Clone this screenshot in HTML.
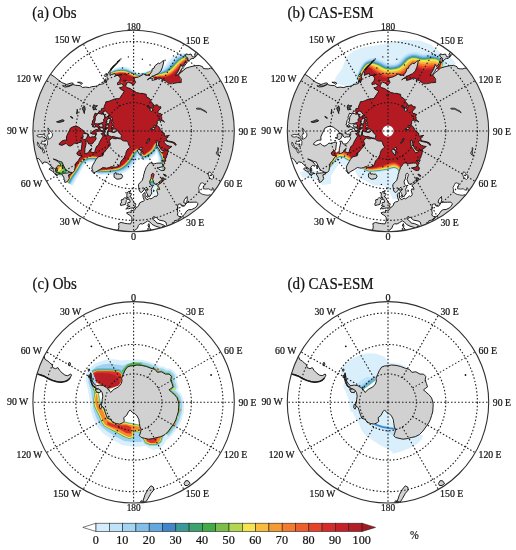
<!DOCTYPE html>
<html><head><meta charset="utf-8"><title>Sea ice concentration</title>
<style>html,body{margin:0;padding:0;background:#fff}svg{display:block}text{font-family:"Liberation Serif","DejaVu Serif",serif;fill:#111;stroke:#111;stroke-width:0.22px}.t{font-size:16px}.l{font-size:10.3px}.n{font-size:12.2px}.g{fill:none;stroke:#1a1a1a;stroke-width:1.1;stroke-dasharray:1.5 2}.land{fill:#d1d1d1;stroke:#151515;stroke-width:0.95;stroke-linejoin:round}.lake{fill:#fff;stroke:#111;stroke-width:0.8;stroke-linejoin:round}.lakeg{fill:#555;stroke:#111;stroke-width:0.9;stroke-linejoin:round}.ln{fill:none;stroke:#111;stroke-width:0.8;stroke-linecap:round}</style></head><body>
<svg width="516" height="550" viewBox="0 0 516 550">
<rect width="516" height="550" fill="#fff"/>
<defs>
<clipPath id="ca"><circle cx="133.6" cy="131" r="100.7"/></clipPath>
<clipPath id="cb"><circle cx="388" cy="131" r="100.7"/></clipPath>
<clipPath id="cc"><circle cx="133.6" cy="402.3" r="100.7"/></clipPath>
<clipPath id="cd"><circle cx="388" cy="402.3" r="100.7"/></clipPath>
</defs>
<g id="panel-a">
<g clip-path="url(#ca)">
<circle cx="133.6" cy="131" r="100.7" fill="#fff"/>
<path fill="#dcf0fb" d="M152.3 69.1L150.2 70.2L148 70.7L146.1 71.4L144.5 72L143 72.5L141.6 72.8L140.2 73L138.9 73L137.5 72.7L136.1 72.1L134.7 71.2L133 70.1L131.2 69L129.3 68L127.2 67.3L125.2 66.9L123.3 66.6L121.4 66.7L119.5 67L117.7 67.4L116 68L114.3 68.8L112.5 69.7L110.8 70.8L109.1 72.2L107.3 73.7L111.9 77.4L114.9 84.8L122.7 87.4L128.1 86.4L135.3 81.2L141.1 77.7L147.6 74.9Z"/>
<path fill="#c3e5f8" d="M152.5 69.4L150.3 70.5L148.2 71.1L146.3 71.9L144.7 72.5L143.2 73L141.7 73.4L140.3 73.6L138.9 73.7L137.5 73.4L135.9 72.8L134.4 72L132.7 71L130.9 69.9L128.9 68.9L127 68.3L125.1 67.9L123.2 67.6L121.4 67.7L119.6 67.9L117.8 68.2L116.1 68.8L114.4 69.5L112.7 70.3L111 71.4L109.3 72.6L107.5 74L111.9 77.4L114.9 84.8L122.7 87.4L128.1 86.4L135.3 81.2L141.1 77.7L147.6 74.9Z"/>
<path fill="#9dd0f0" d="M152.6 69.7L150.5 70.8L148.3 71.5L146.5 72.3L144.9 72.9L143.3 73.5L141.9 73.9L140.4 74.2L138.9 74.3L137.4 74L135.8 73.5L134.1 72.7L132.4 71.7L130.5 70.7L128.6 69.7L126.7 69.1L124.9 68.7L123.1 68.5L121.4 68.6L119.6 68.7L117.9 69L116.3 69.5L114.6 70.1L112.9 70.8L111.2 71.8L109.4 73L107.6 74.2L111.9 77.4L114.9 84.8L122.7 87.4L128.1 86.4L135.3 81.2L141.1 77.7L147.6 74.9Z"/>
<path fill="#6caee1" d="M152.7 69.9L150.6 71L148.5 71.8L146.6 72.6L145 73.3L143.5 73.9L142 74.3L140.5 74.6L138.9 74.7L137.3 74.5L135.6 74L133.9 73.2L132.1 72.3L130.3 71.3L128.4 70.4L126.6 69.8L124.8 69.4L123.1 69.2L121.4 69.2L119.7 69.4L118 69.7L116.4 70.1L114.8 70.6L113.1 71.3L111.4 72.2L109.6 73.2L107.7 74.4L111.9 77.4L114.9 84.8L122.7 87.4L128.1 86.4L135.3 81.2L141.1 77.7L147.6 74.9Z"/>
<path fill="#4a8fcf" d="M152.8 70.1L150.7 71.2L148.6 72L146.8 72.9L145.1 73.6L143.6 74.2L142.1 74.7L140.6 75L138.9 75.1L137.2 75L135.5 74.5L133.7 73.7L131.9 72.8L130.1 71.8L128.2 71L126.4 70.4L124.7 70.1L123 69.9L121.4 69.9L119.7 70L118.1 70.2L116.5 70.6L114.9 71.1L113.2 71.7L111.5 72.5L109.7 73.5L107.8 74.6L111.9 77.4L114.9 84.8L122.7 87.4L128.1 86.4L135.3 81.2L141.1 77.7L147.6 74.9Z"/>
<path fill="#3f9f8a" d="M152.9 70.2L150.7 71.3L148.7 72.2L146.8 73L145.2 73.8L143.6 74.4L142.1 74.9L140.6 75.2L139 75.4L137.2 75.2L135.4 74.8L133.6 74L131.8 73.1L129.9 72.1L128.1 71.3L126.3 70.8L124.6 70.4L123 70.2L121.4 70.2L119.8 70.3L118.2 70.5L116.6 70.9L115 71.3L113.3 71.9L111.6 72.7L109.8 73.6L107.9 74.7L111.9 77.4L114.9 84.8L122.7 87.4L128.1 86.4L135.3 81.2L141.1 77.7L147.6 74.9Z"/>
<path fill="#46ad4a" d="M152.9 70.3L150.8 71.3L148.7 72.3L146.9 73.1L145.3 73.9L143.7 74.5L142.2 75L140.6 75.4L139 75.6L137.2 75.4L135.4 75L133.5 74.2L131.7 73.3L129.8 72.4L128 71.6L126.2 71L124.6 70.7L123 70.5L121.4 70.5L119.8 70.6L118.2 70.8L116.6 71.1L115 71.5L113.4 72.1L111.7 72.8L109.8 73.8L107.9 74.8L111.9 77.4L114.9 84.8L122.7 87.4L128.1 86.4L135.3 81.2L141.1 77.7L147.6 74.9Z"/>
<path fill="#9ccb4e" d="M153 70.4L150.8 71.4L148.8 72.4L147 73.3L145.3 74L143.8 74.7L142.2 75.2L140.6 75.6L139 75.8L137.2 75.6L135.3 75.2L133.4 74.5L131.6 73.6L129.7 72.7L127.9 71.9L126.2 71.3L124.5 71L122.9 70.8L121.4 70.8L119.8 70.9L118.2 71L116.7 71.4L115.1 71.8L113.4 72.3L111.7 73L109.9 73.9L108 74.9L111.9 77.4L114.9 84.8L122.7 87.4L128.1 86.4L135.3 81.2L141.1 77.7L147.6 74.9Z"/>
<path fill="#f4e450" d="M153 70.5L150.8 71.5L148.8 72.5L147 73.4L145.4 74.2L143.8 74.8L142.3 75.4L140.7 75.8L139 76L137.1 75.9L135.2 75.4L133.4 74.7L131.5 73.8L129.6 72.9L127.8 72.2L126.1 71.7L124.5 71.3L122.9 71.1L121.4 71.1L119.8 71.1L118.3 71.3L116.7 71.6L115.1 72L113.5 72.5L111.8 73.2L109.9 74L108 75L111.9 77.4L114.9 84.8L122.7 87.4L128.1 86.4L135.3 81.2L141.1 77.7L147.6 74.9Z"/>
<path fill="#f7b53d" d="M153.1 70.8L151 71.9L149 73L147.2 73.9L145.6 74.6L144 75.3L142.4 75.9L140.7 76.3L139 76.5L137.1 76.4L135.1 75.9L133.2 75.2L131.3 74.3L129.4 73.4L127.6 72.7L126 72.1L124.4 71.8L122.9 71.6L121.4 71.6L119.9 71.6L118.4 71.8L116.8 72.1L115.3 72.5L113.7 73L112 73.6L110.1 74.4L108.1 75.3L111.9 77.4L114.9 84.8L122.7 87.4L128.1 86.4L135.3 81.2L141.1 77.7L147.6 74.9Z"/>
<path fill="#f3812f" d="M153.3 71L151.2 72.3L149.3 73.4L147.4 74.3L145.8 75.1L144.2 75.8L142.5 76.3L140.8 76.8L139 77L137 76.8L135 76.4L133 75.6L131.1 74.7L129.2 73.9L127.5 73.1L125.8 72.6L124.3 72.3L122.8 72.1L121.4 72.1L119.9 72.1L118.4 72.3L116.9 72.6L115.4 72.9L113.8 73.4L112.1 74L110.3 74.7L108.3 75.5L111.9 77.4L114.9 84.8L122.7 87.4L128.1 86.4L135.3 81.2L141.1 77.7L147.6 74.9Z"/>
<path fill="#e8502a" d="M153.4 71.3L151.4 72.6L149.5 73.9L147.7 74.8L146 75.6L144.3 76.2L142.7 76.8L140.9 77.2L139 77.4L136.9 77.3L134.8 76.9L132.8 76.1L130.9 75.2L129.1 74.3L127.3 73.6L125.7 73.1L124.2 72.8L122.8 72.6L121.4 72.6L119.9 72.6L118.5 72.8L117 73.1L115.5 73.4L114 73.9L112.3 74.4L110.4 75.1L108.4 75.8L111.9 77.4L114.9 84.8L122.7 87.4L128.1 86.4L135.3 81.2L141.1 77.7L147.6 74.9Z"/>
<path fill="#d42928" d="M153.5 71.6L151.5 73L149.7 74.3L147.9 75.2L146.2 76L144.5 76.7L142.8 77.3L141 77.7L139 77.9L136.9 77.8L134.7 77.3L132.7 76.6L130.7 75.7L128.9 74.8L127.1 74.1L125.6 73.6L124.1 73.3L122.8 73.1L121.4 73L120 73.1L118.6 73.3L117.1 73.6L115.7 73.9L114.2 74.4L112.5 74.8L110.6 75.5L108.5 76.1L111.9 77.4L114.9 84.8L122.7 87.4L128.1 86.4L135.3 81.2L141.1 77.7L147.6 74.9Z"/>
<path fill="#b31a21" d="M153.7 71.9L151.7 73.3L149.9 74.8L148.1 75.7L146.4 76.5L144.7 77.2L142.9 77.8L141 78.2L139 78.4L136.8 78.3L134.6 77.8L132.5 77L130.5 76.1L128.7 75.2L127 74.5L125.5 74.1L124.1 73.7L122.7 73.6L121.4 73.5L120 73.6L118.6 73.8L117.2 74L115.8 74.4L114.3 74.8L112.6 75.2L110.8 75.8L108.7 76.3L111.9 77.4L114.9 84.8L122.7 87.4L128.1 86.4L135.3 81.2L141.1 77.7L147.6 74.9Z"/>
<path fill="#dcf0fb" d="M191.1 57.9L189.5 55.7L187.2 54L184.3 53.1L181.1 53L178.4 53.9L176 54.9L174 56L172.3 57.3L170.8 58.6L169.4 59.9L168.2 61.3L167 62.5L166.2 63.8L165.5 64.9L164.8 65.8L164.1 66.7L163.3 67.5L162.1 68.3L160.6 69.4L158.8 70.5L157 71.8L155.2 73.1L153.4 76.7L155.5 84L166.8 83.6L180.9 82.1L179.3 75.6L176.9 74.5L180.5 68L184.3 64.2L186.6 61.2L187.4 58.3Z"/>
<path fill="#c3e5f8" d="M190.9 58.2L189.3 56.3L187.1 54.8L184.4 54.1L181.6 54.2L179.1 55.1L177 56.1L175.1 57.2L173.5 58.5L172.1 59.8L170.7 61.1L169.4 62.5L168.3 63.8L167.3 65.1L166.4 66.1L165.5 67.1L164.7 68L163.7 68.8L162.4 69.5L160.8 70.4L159 71.4L157.2 72.5L155.4 73.6L153.4 76.7L155.5 84L166.8 83.6L180.9 82.1L179.3 75.6L176.9 74.5L180.5 68L184.3 64.2L186.6 61.2L187.4 58.3Z"/>
<path fill="#9dd0f0" d="M190.7 58.5L189.1 56.8L187 55.6L184.6 55.1L182 55.3L179.8 56.2L177.8 57.2L176.1 58.3L174.6 59.6L173.2 60.8L171.8 62.2L170.6 63.6L169.4 64.9L168.3 66.2L167.3 67.3L166.2 68.3L165.2 69.1L164.1 69.9L162.7 70.6L161.1 71.3L159.2 72.2L157.3 73.1L155.6 74.1L153.4 76.7L155.5 84L166.8 83.6L180.9 82.1L179.3 75.6L176.9 74.5L180.5 68L184.3 64.2L186.6 61.2L187.4 58.3Z"/>
<path fill="#6caee1" d="M190.5 58.8L188.9 57.3L186.9 56.2L184.7 55.8L182.4 56.1L180.3 57L178.5 58.1L176.8 59.2L175.4 60.5L174.1 61.7L172.8 63.1L171.5 64.5L170.3 65.9L169.1 67.2L168 68.3L166.8 69.2L165.7 70.1L164.4 70.8L163 71.4L161.2 72.1L159.3 72.8L157.5 73.6L155.7 74.5L153.4 76.7L155.5 84L166.8 83.6L180.9 82.1L179.3 75.6L176.9 74.5L180.5 68L184.3 64.2L186.6 61.2L187.4 58.3Z"/>
<path fill="#4a8fcf" d="M190.3 59L188.7 57.6L186.8 56.7L184.8 56.5L182.7 56.9L180.8 57.8L179.1 58.9L177.5 60L176.2 61.2L174.9 62.5L173.6 63.8L172.3 65.3L171.1 66.7L169.8 68L168.6 69.1L167.3 70.1L166.1 70.9L164.7 71.6L163.2 72.1L161.4 72.7L159.5 73.3L157.6 74L155.8 74.8L153.4 76.7L155.5 84L166.8 83.6L180.9 82.1L179.3 75.6L176.9 74.5L180.5 68L184.3 64.2L186.6 61.2L187.4 58.3Z"/>
<path fill="#3f9f8a" d="M190.2 59.2L188.6 57.9L186.8 57L184.8 56.8L182.8 57.3L181 58.2L179.4 59.3L177.9 60.5L176.6 61.7L175.3 62.9L174.1 64.3L172.8 65.7L171.5 67.1L170.2 68.4L168.9 69.6L167.6 70.5L166.3 71.4L164.9 72L163.3 72.6L161.5 73.1L159.6 73.6L157.7 74.3L155.8 75L153.4 76.7L155.5 84L166.8 83.6L180.9 82.1L179.3 75.6L176.9 74.5L180.5 68L184.3 64.2L186.6 61.2L187.4 58.3Z"/>
<path fill="#46ad4a" d="M190.2 59.3L188.6 58L186.8 57.2L184.8 57.1L183 57.6L181.2 58.6L179.7 59.7L178.2 60.8L176.9 62L175.7 63.2L174.4 64.6L173.2 66L171.8 67.5L170.5 68.8L169.2 69.9L167.8 70.9L166.4 71.7L165 72.4L163.4 72.9L161.5 73.4L159.6 73.9L157.7 74.5L155.9 75.2L153.4 76.7L155.5 84L166.8 83.6L180.9 82.1L179.3 75.6L176.9 74.5L180.5 68L184.3 64.2L186.6 61.2L187.4 58.3Z"/>
<path fill="#9ccb4e" d="M190.1 59.4L188.5 58.2L186.7 57.5L184.9 57.4L183.1 58L181.5 59L180 60.1L178.6 61.2L177.3 62.4L176.1 63.6L174.8 65L173.6 66.4L172.2 67.9L170.9 69.2L169.5 70.3L168.1 71.3L166.6 72.1L165.1 72.7L163.5 73.2L161.6 73.7L159.7 74.1L157.8 74.7L155.9 75.3L153.4 76.7L155.5 84L166.8 83.6L180.9 82.1L179.3 75.6L176.9 74.5L180.5 68L184.3 64.2L186.6 61.2L187.4 58.3Z"/>
<path fill="#f4e450" d="M190 59.5L188.4 58.4L186.7 57.7L184.9 57.8L183.3 58.4L181.7 59.3L180.3 60.4L178.9 61.6L177.7 62.8L176.5 64L175.2 65.3L174 66.8L172.6 68.3L171.2 69.6L169.8 70.8L168.3 71.7L166.8 72.5L165.3 73.1L163.6 73.6L161.7 74L159.8 74.4L157.8 74.9L156 75.5L153.4 76.7L155.5 84L166.8 83.6L180.9 82.1L179.3 75.6L176.9 74.5L180.5 68L184.3 64.2L186.6 61.2L187.4 58.3Z"/>
<path fill="#f7b53d" d="M189.8 59.8L188.2 58.9L186.6 58.5L185 58.6L183.6 59.2L182.2 60.1L180.8 61.1L179.5 62.3L178.3 63.4L177.1 64.6L175.9 66L174.6 67.4L173.2 68.9L171.8 70.3L170.3 71.5L168.8 72.5L167.2 73.3L165.6 73.9L163.8 74.4L161.9 74.7L159.9 75L158 75.4L156.1 75.9L153.4 76.7L155.5 84L166.8 83.6L180.9 82.1L179.3 75.6L176.9 74.5L180.5 68L184.3 64.2L186.6 61.2L187.4 58.3Z"/>
<path fill="#f3812f" d="M189.5 60.2L188 59.5L186.5 59.2L185.1 59.3L183.9 60L182.6 60.8L181.4 61.9L180.1 62.9L178.9 64.1L177.7 65.2L176.6 66.6L175.3 68L173.9 69.5L172.4 71L170.8 72.2L169.2 73.3L167.5 74.1L165.8 74.7L164 75.2L162 75.4L160 75.6L158.1 75.9L156.2 76.3L153.4 76.7L155.5 84L166.8 83.6L180.9 82.1L179.3 75.6L176.9 74.5L180.5 68L184.3 64.2L186.6 61.2L187.4 58.3Z"/>
<path fill="#e8502a" d="M189.3 60.5L187.7 60L186.4 60L185.3 60.1L184.2 60.8L183.1 61.6L181.9 62.6L180.7 63.6L179.5 64.7L178.4 65.9L177.2 67.2L175.9 68.7L174.5 70.2L173 71.6L171.3 72.9L169.7 74L167.9 74.9L166.1 75.5L164.2 75.9L162.2 76L160.2 76.1L158.3 76.3L156.4 76.6L153.4 76.7L155.5 84L166.8 83.6L180.9 82.1L179.3 75.6L176.9 74.5L180.5 68L184.3 64.2L186.6 61.2L187.4 58.3Z"/>
<path fill="#d42928" d="M189.1 60.8L187.5 60.5L186.3 60.7L185.4 60.9L184.5 61.6L183.6 62.3L182.5 63.3L181.3 64.3L180.2 65.4L179 66.5L177.9 67.8L176.6 69.3L175.1 70.8L173.5 72.3L171.9 73.7L170.1 74.8L168.3 75.6L166.4 76.3L164.4 76.7L162.4 76.7L160.3 76.7L158.4 76.8L156.5 77L153.4 76.7L155.5 84L166.8 83.6L180.9 82.1L179.3 75.6L176.9 74.5L180.5 68L184.3 64.2L186.6 61.2L187.4 58.3Z"/>
<path fill="#b31a21" d="M188.9 61.1L187.3 61L186.1 61.5L185.5 61.7L184.9 62.4L184 63.1L183 64L181.9 65L180.8 66L179.7 67.1L178.5 68.4L177.2 69.9L175.8 71.5L174.1 73L172.4 74.4L170.6 75.6L168.6 76.4L166.7 77L164.7 77.5L162.5 77.4L160.5 77.3L158.5 77.3L156.6 77.4L153.4 76.7L155.5 84L166.8 83.6L180.9 82.1L179.3 75.6L176.9 74.5L180.5 68L184.3 64.2L186.6 61.2L187.4 58.3Z"/>
<path fill="#dcf0fb" d="M72.7 186L73.5 184.6L74.3 183.2L74.9 181.8L75.6 180.4L76.3 179L77.2 177.4L78.2 175.7L79.2 174.1L80.2 172.4L81 170.8L81.9 169.2L82.7 167.8L83.5 166.5L84.2 165.5L84.9 164.7L85.6 163.9L86.6 163.3L87.7 162.8L88.8 162.4L89.9 162.2L91.1 162L92.3 162L93.5 162L94.8 162.2L96.1 162.1L97.3 161.8L99.1 160.2L101 159.5L101 160.5L100.3 161.7L99.3 163L98.3 164.3L97.3 165.6L96.4 167L95.9 168.4L96.1 169.7L95.3 173.1L97.6 174.3L99.8 174.8L101.8 174.9L103.4 174.9L105 174.9L106.6 174.8L108.1 174.8L109.8 174.8L111.4 174.7L113.2 174.7L115 174.6L116.9 174.5L118.9 174.2L121.1 173.7L123.3 173L125.5 172.1L127.5 171.1L129.2 169.8L130.8 168.5L132.3 167.1L133.7 165.6L134.9 163.9L136 162.3L137 160.8L137.8 159.3L138.5 157.9L138.9 156.7L139 155.9L138.4 155L137.7 154.3L137.1 153.9L136.7 154.3L136.8 155.2L137.7 156.8L139.5 158.6L142 160L145 160.5L147.7 160L149.8 159.2L151.5 158.1L153.1 157L154.6 155.7L156.2 154.2L157.2 152.1L157.9 149.9L158.1 148L157.5 146.3L156.5 145L155.8 144.8L155.4 145.7L155.6 147.2L155.8 149L156.3 150.9L157 152.8L157.3 154.8L157.6 156.5L158 157.8L158.2 158.8L158.2 159.8L158.5 161L158.8 162.6L159.1 164.3L159.7 166.1L160.5 167.9L161.5 169.9L163.1 171.9L168.8 166.2L180.2 157.9L190.5 141L190.5 121L180.2 104.1L168.2 89.8L150.6 84.2L140.3 83.6L129.3 81.4L123.2 82.3L112.5 85.8L99 89.8L82.9 95.5L61.8 111.8L52.9 131L55.2 144.8L59.9 154.9L68.9 165.4L70.8 169.5L71.1 172.4L68 174.2L66.8 176.9Z"/>
<path fill="#c3e5f8" d="M71.5 185.4L72.4 183.9L73.2 182.5L73.8 181.1L74.5 179.7L75.3 178.3L76.3 176.7L77.3 175.1L78.4 173.5L79.3 171.9L80.2 170.3L81.1 168.7L81.9 167.3L82.7 166L83.4 164.9L84.2 164L85.1 163.2L86.1 162.5L87.3 161.9L88.5 161.5L89.8 161.2L91 161.1L92.3 161L93.6 161.1L94.9 161.2L96.3 161.2L97.6 161.1L99.3 159.9L101 159.5L101 160.5L100.3 161.7L99.3 163L98.3 164.3L97.3 165.6L96.4 167L95.9 168.4L96.1 169.7L95.7 172.5L97.8 173.6L99.9 174L101.7 174L103.4 174L104.9 173.9L106.5 173.9L108.1 173.9L109.7 173.8L111.3 173.7L113 173.7L114.8 173.5L116.7 173.4L118.6 173.1L120.6 172.6L122.7 171.9L124.7 171L126.6 169.9L128.2 168.7L129.7 167.4L131.2 166.1L132.5 164.6L133.7 163.1L134.7 161.5L135.7 159.9L136.5 158.5L137.2 157.1L137.8 155.8L138.1 154.8L138 153.9L137.7 153.3L137.5 153.1L137.4 153.6L137.7 154.6L138.5 156.1L140.1 157.8L142.3 159.1L144.9 159.5L147.3 159L149.2 158.1L150.8 157.1L152.3 156.1L153.8 154.8L155.3 153.4L156.3 151.4L157.1 149.4L157.4 147.6L157 145.9L156.3 144.7L155.9 144.6L155.8 145.5L156 147.1L156.3 148.8L156.8 150.6L157.5 152.4L158.1 154.4L158.5 156.1L159 157.4L159.2 158.5L159.3 159.6L159.5 161L159.7 162.5L160 164.3L160.5 166L161.2 167.8L162 169.8L163.4 171.8L168.8 166.2L180.2 157.9L190.5 141L190.5 121L180.2 104.1L168.2 89.8L150.6 84.2L140.3 83.6L129.3 81.4L123.2 82.3L112.5 85.8L99 89.8L82.9 95.5L61.8 111.8L52.9 131L55.2 144.8L59.9 154.9L68.9 165.4L70.8 169.5L71.1 172.4L68 174.2L66.8 176.9Z"/>
<path fill="#9dd0f0" d="M70.5 184.8L71.3 183.3L72.2 181.9L72.9 180.5L73.6 179.1L74.4 177.7L75.4 176.1L76.5 174.5L77.6 172.9L78.6 171.3L79.4 169.8L80.3 168.3L81.1 166.8L81.9 165.5L82.7 164.3L83.5 163.3L84.5 162.5L85.7 161.7L87 161.1L88.3 160.6L89.6 160.3L90.9 160.2L92.3 160.1L93.6 160.2L95 160.3L96.5 160.3L97.9 160.3L99.5 159.6L101 159.5L101 160.5L100.3 161.7L99.3 163L98.3 164.3L97.3 165.6L96.5 167L95.9 168.4L96.1 169.7L96 172L98 173L99.9 173.2L101.7 173.3L103.3 173.2L104.9 173.1L106.4 173.1L108 173L109.6 172.9L111.2 172.8L112.9 172.7L114.7 172.6L116.4 172.4L118.3 172.1L120.2 171.6L122.2 170.9L124.1 169.9L125.8 168.9L127.4 167.7L128.8 166.5L130.1 165.2L131.4 163.8L132.5 162.3L133.5 160.7L134.5 159.2L135.4 157.7L136.1 156.3L136.8 155L137.3 153.9L137.6 152.9L137.7 152.4L137.9 152.3L138 152.9L138.4 154L139.3 155.5L140.7 157.1L142.6 158.3L144.8 158.5L146.9 158L148.7 157.2L150.2 156.2L151.7 155.2L153.1 154L154.5 152.7L155.5 150.9L156.3 149L156.7 147.2L156.6 145.6L156.2 144.5L156 144.3L156 145.3L156.3 146.9L156.7 148.7L157.3 150.4L158.1 152.2L158.7 154L159.3 155.7L159.8 157.1L160.2 158.3L160.3 159.5L160.5 160.9L160.6 162.5L160.8 164.2L161.2 166L161.7 167.7L162.5 169.7L163.7 171.7L168.8 166.2L180.2 157.9L190.5 141L190.5 121L180.2 104.1L168.2 89.8L150.6 84.2L140.3 83.6L129.3 81.4L123.2 82.3L112.5 85.8L99 89.8L82.9 95.5L61.8 111.8L52.9 131L55.2 144.8L59.9 154.9L68.9 165.4L70.8 169.5L71.1 172.4L68 174.2L66.8 176.9Z"/>
<path fill="#6caee1" d="M69.7 184.3L70.5 182.8L71.3 181.4L72.1 180L72.8 178.6L73.7 177.2L74.8 175.6L75.9 174L77 172.4L77.9 170.9L78.8 169.4L79.7 167.9L80.5 166.4L81.3 165.1L82.2 163.9L83 162.8L84.1 161.9L85.3 161.1L86.7 160.4L88.1 159.9L89.5 159.6L90.9 159.5L92.3 159.4L93.7 159.4L95.1 159.6L96.6 159.7L98.1 159.8L99.7 159.4L101 159.5L101 160.5L100.3 161.7L99.3 163L98.3 164.3L97.3 165.7L96.5 167L95.9 168.4L96.1 169.7L96.3 171.7L98.1 172.4L100 172.7L101.7 172.6L103.3 172.5L104.8 172.4L106.4 172.4L107.9 172.3L109.5 172.2L111.2 172.1L112.8 172L114.5 171.8L116.3 171.6L118.1 171.3L119.9 170.8L121.8 170.1L123.5 169.1L125.2 168.1L126.7 166.9L128 165.7L129.3 164.4L130.6 163.1L131.6 161.6L132.6 160.1L133.5 158.6L134.4 157.1L135.2 155.7L136 154.3L136.7 153.1L137.2 152.1L137.7 151.6L138.2 151.6L138.6 152.4L139.1 153.6L139.9 155L141.1 156.6L142.8 157.6L144.7 157.8L146.6 157.3L148.2 156.4L149.7 155.5L151.1 154.5L152.5 153.4L153.8 152.1L154.9 150.4L155.7 148.6L156.2 146.9L156.2 145.3L156.1 144.2L156.1 144.2L156.3 145.2L156.6 146.8L157.1 148.5L157.7 150.2L158.5 151.9L159.2 153.7L159.9 155.4L160.5 156.8L160.9 158.1L161 159.4L161.2 160.9L161.3 162.5L161.4 164.2L161.7 165.9L162.2 167.6L162.9 169.6L163.9 171.7L168.8 166.2L180.2 157.9L190.5 141L190.5 121L180.2 104.1L168.2 89.8L150.6 84.2L140.3 83.6L129.3 81.4L123.2 82.3L112.5 85.8L99 89.8L82.9 95.5L61.8 111.8L52.9 131L55.2 144.8L59.9 154.9L68.9 165.4L70.8 169.5L71.1 172.4L68 174.2L66.8 176.9Z"/>
<path fill="#4a8fcf" d="M69 183.8L69.8 182.4L70.6 181L71.4 179.6L72.1 178.2L73.1 176.7L74.2 175.2L75.3 173.6L76.4 172.1L77.4 170.6L78.3 169.1L79.2 167.6L80 166.1L80.8 164.7L81.7 163.5L82.6 162.4L83.7 161.4L85 160.5L86.4 159.8L87.9 159.3L89.4 159L90.8 158.8L92.2 158.8L93.7 158.8L95.2 159L96.7 159.1L98.3 159.3L99.8 159.2L101 159.5L101 160.5L100.3 161.7L99.4 163L98.3 164.3L97.4 165.7L96.5 167L96 168.4L96.1 169.7L96.6 171.3L98.2 172L100 172.1L101.7 172.1L103.2 172L104.8 171.9L106.3 171.8L107.9 171.7L109.5 171.6L111.1 171.5L112.7 171.3L114.4 171.1L116.1 170.9L117.9 170.6L119.6 170.1L121.4 169.3L123.1 168.4L124.6 167.4L126.1 166.2L127.4 165L128.6 163.8L129.8 162.5L130.8 161L131.8 159.6L132.7 158.1L133.6 156.6L134.5 155.1L135.3 153.7L136.1 152.5L136.9 151.5L137.7 150.9L138.4 151.1L139 151.9L139.6 153.2L140.4 154.6L141.5 156.1L143 157L144.7 157.1L146.3 156.6L147.9 155.8L149.3 154.9L150.6 153.9L152 152.8L153.3 151.6L154.3 150L155.1 148.3L155.7 146.6L155.9 145L156 144L156.2 144L156.5 145.1L156.9 146.7L157.4 148.4L158 150.1L158.9 151.7L159.7 153.5L160.5 155.1L161.1 156.6L161.5 157.9L161.7 159.3L161.9 160.8L161.9 162.5L162 164.2L162.2 165.8L162.6 167.6L163.2 169.5L164.1 171.6L168.8 166.2L180.2 157.9L190.5 141L190.5 121L180.2 104.1L168.2 89.8L150.6 84.2L140.3 83.6L129.3 81.4L123.2 82.3L112.5 85.8L99 89.8L82.9 95.5L61.8 111.8L52.9 131L55.2 144.8L59.9 154.9L68.9 165.4L70.8 169.5L71.1 172.4L68 174.2L66.8 176.9Z"/>
<path fill="#3f9f8a" d="M68.5 183.6L69.4 182.2L70.2 180.7L71 179.3L71.8 177.9L72.7 176.5L73.8 174.9L75 173.3L76.1 171.8L77.1 170.4L78 168.9L78.9 167.4L79.7 165.9L80.5 164.5L81.4 163.3L82.4 162.1L83.5 161.1L84.8 160.2L86.3 159.5L87.8 159L89.3 158.7L90.8 158.5L92.2 158.4L93.7 158.5L95.2 158.6L96.8 158.8L98.4 159L99.9 159L101 159.5L101 160.5L100.3 161.7L99.4 163L98.4 164.3L97.4 165.7L96.5 167L96 168.4L96.1 169.7L96.7 171.1L98.3 171.7L100 171.8L101.6 171.7L103.2 171.6L104.8 171.5L106.3 171.4L107.9 171.4L109.4 171.3L111 171.1L112.7 171L114.3 170.7L116 170.5L117.7 170.2L119.5 169.7L121.2 168.9L122.8 168L124.3 167L125.7 165.8L127 164.7L128.2 163.4L129.4 162.1L130.4 160.7L131.3 159.3L132.2 157.8L133.1 156.3L134 154.8L134.9 153.4L135.8 152.1L136.8 151.1L137.7 150.6L138.6 150.8L139.3 151.7L139.9 152.9L140.7 154.4L141.8 155.8L143.1 156.7L144.6 156.8L146.2 156.2L147.6 155.4L149 154.5L150.4 153.6L151.7 152.5L152.9 151.3L154 149.8L154.8 148.2L155.4 146.5L155.8 144.9L156 143.9L156.3 143.9L156.6 145L157 146.6L157.5 148.3L158.2 150L159.1 151.6L160 153.3L160.8 155L161.5 156.4L161.9 157.8L162.1 159.3L162.2 160.8L162.2 162.5L162.3 164.1L162.5 165.8L162.9 167.5L163.4 169.4L164.2 171.6L168.8 166.2L180.2 157.9L190.5 141L190.5 121L180.2 104.1L168.2 89.8L150.6 84.2L140.3 83.6L129.3 81.4L123.2 82.3L112.5 85.8L99 89.8L82.9 95.5L61.8 111.8L52.9 131L55.2 144.8L59.9 154.9L68.9 165.4L70.8 169.5L71.1 172.4L68 174.2L66.8 176.9Z"/>
<path fill="#46ad4a" d="M68.2 183.4L69.1 182L69.9 180.6L70.7 179.2L71.5 177.8L72.4 176.3L73.6 174.7L74.7 173.2L75.9 171.7L76.8 170.2L77.8 168.7L78.6 167.2L79.5 165.7L80.3 164.3L81.2 163.1L82.2 161.9L83.3 160.9L84.7 160L86.2 159.3L87.7 158.7L89.2 158.4L90.7 158.2L92.2 158.1L93.7 158.2L95.3 158.3L96.8 158.5L98.4 158.8L100 159L101 159.5L101 160.5L100.3 161.7L99.4 163L98.4 164.3L97.4 165.7L96.5 167L96 168.4L96.1 169.7L96.8 171L98.4 171.5L100 171.6L101.6 171.5L103.2 171.4L104.7 171.3L106.3 171.2L107.8 171.1L109.4 171L111 170.9L112.6 170.7L114.3 170.5L116 170.2L117.7 169.9L119.3 169.4L121 168.6L122.6 167.7L124.1 166.6L125.4 165.5L126.7 164.4L127.9 163.2L129 161.9L130 160.5L131 159L131.9 157.6L132.8 156.1L133.7 154.6L134.6 153.1L135.6 151.8L136.6 150.8L137.7 150.3L138.7 150.5L139.5 151.5L140.2 152.7L140.9 154.2L141.9 155.6L143.2 156.4L144.6 156.5L146.1 155.9L147.5 155.1L148.8 154.2L150.2 153.3L151.5 152.3L152.7 151.1L153.7 149.6L154.6 148L155.2 146.4L155.6 144.8L156 143.8L156.3 143.9L156.7 144.9L157.1 146.6L157.7 148.3L158.4 149.9L159.2 151.5L160.2 153.2L161 154.8L161.7 156.3L162.2 157.8L162.4 159.2L162.5 160.8L162.5 162.5L162.5 164.1L162.7 165.8L163 167.5L163.6 169.4L164.3 171.6L168.8 166.2L180.2 157.9L190.5 141L190.5 121L180.2 104.1L168.2 89.8L150.6 84.2L140.3 83.6L129.3 81.4L123.2 82.3L112.5 85.8L99 89.8L82.9 95.5L61.8 111.8L52.9 131L55.2 144.8L59.9 154.9L68.9 165.4L70.8 169.5L71.1 172.4L68 174.2L66.8 176.9Z"/>
<path fill="#9ccb4e" d="M67.9 183.2L68.7 181.8L69.5 180.4L70.3 179L71.1 177.5L72.1 176.1L73.3 174.5L74.5 173L75.6 171.5L76.6 170L77.5 168.6L78.4 167.1L79.2 165.6L80 164.2L80.9 162.9L81.9 161.7L83.1 160.7L84.5 159.7L86.1 159L87.6 158.4L89.2 158.1L90.7 157.9L92.2 157.8L93.8 157.9L95.3 158L96.9 158.2L98.5 158.5L100.1 158.9L101 159.5L101 160.5L100.3 161.7L99.4 163L98.4 164.3L97.4 165.7L96.5 167L96 168.4L96.1 169.7L96.9 170.8L98.4 171.3L100 171.3L101.6 171.2L103.2 171.1L104.7 171L106.3 170.9L107.8 170.8L109.4 170.7L111 170.5L112.6 170.3L114.2 170.1L115.9 169.9L117.6 169.5L119.2 169L120.8 168.3L122.4 167.3L123.8 166.3L125.1 165.2L126.4 164L127.5 162.8L128.6 161.6L129.6 160.2L130.6 158.8L131.5 157.3L132.4 155.8L133.3 154.3L134.2 152.8L135.3 151.5L136.5 150.4L137.7 150L138.8 150.3L139.7 151.2L140.4 152.5L141.2 154L142.1 155.3L143.3 156.1L144.6 156.2L145.9 155.6L147.3 154.8L148.6 153.9L149.9 153L151.2 152L152.4 150.8L153.4 149.4L154.3 147.9L155 146.2L155.5 144.7L155.9 143.7L156.3 143.8L156.8 144.9L157.3 146.5L157.8 148.2L158.5 149.8L159.4 151.4L160.4 153.1L161.3 154.7L162 156.2L162.5 157.7L162.8 159.2L162.8 160.8L162.8 162.5L162.8 164.1L163 165.8L163.3 167.4L163.7 169.4L164.4 171.5L168.8 166.2L180.2 157.9L190.5 141L190.5 121L180.2 104.1L168.2 89.8L150.6 84.2L140.3 83.6L129.3 81.4L123.2 82.3L112.5 85.8L99 89.8L82.9 95.5L61.8 111.8L52.9 131L55.2 144.8L59.9 154.9L68.9 165.4L70.8 169.5L71.1 172.4L68 174.2L66.8 176.9Z"/>
<path fill="#f4e450" d="M67.5 183L68.3 181.6L69.2 180.1L70 178.7L70.8 177.3L71.8 175.8L73 174.3L74.2 172.8L75.3 171.3L76.3 169.8L77.2 168.4L78.1 166.9L78.9 165.4L79.8 164L80.7 162.7L81.7 161.5L82.9 160.4L84.4 159.5L85.9 158.7L87.5 158.2L89.1 157.8L90.7 157.6L92.2 157.5L93.8 157.6L95.3 157.7L97 157.9L98.6 158.3L100.1 158.8L101 159.5L101 160.5L100.3 161.7L99.4 163L98.4 164.4L97.4 165.7L96.5 167L96 168.4L96.1 169.7L97.1 170.6L98.5 171.1L100.1 171.1L101.6 170.9L103.2 170.8L104.7 170.7L106.2 170.6L107.8 170.5L109.4 170.4L110.9 170.2L112.6 170L114.2 169.8L115.8 169.5L117.4 169.2L119 168.7L120.6 167.9L122.1 167L123.5 165.9L124.8 164.8L126 163.7L127.2 162.5L128.3 161.3L129.2 159.9L130.1 158.5L131 157L131.9 155.5L132.9 154L133.9 152.5L135 151.1L136.3 150.1L137.7 149.6L139 150L140 151L140.7 152.3L141.5 153.8L142.3 155.1L143.4 155.8L144.5 155.9L145.8 155.3L147.1 154.5L148.4 153.6L149.7 152.7L150.9 151.7L152.1 150.6L153.1 149.2L154 147.7L154.8 146.1L155.3 144.6L155.9 143.6L156.4 143.7L156.9 144.8L157.4 146.5L158 148.1L158.7 149.7L159.6 151.3L160.6 152.9L161.6 154.6L162.3 156.1L162.8 157.6L163.1 159.1L163.2 160.8L163.1 162.4L163.1 164.1L163.2 165.7L163.5 167.4L163.9 169.3L164.5 171.5L168.8 166.2L180.2 157.9L190.5 141L190.5 121L180.2 104.1L168.2 89.8L150.6 84.2L140.3 83.6L129.3 81.4L123.2 82.3L112.5 85.8L99 89.8L82.9 95.5L61.8 111.8L52.9 131L55.2 144.8L59.9 154.9L68.9 165.4L70.8 169.5L71.1 172.4L68 174.2L66.8 176.9Z"/>
<path fill="#f7b53d" d="M67.2 182.8L68.1 181.4L68.9 180L69.7 178.6L70.5 177.1L71.5 175.6L72.7 174.1L73.9 172.5L75 171.1L76 169.6L76.9 168.2L77.8 166.7L78.6 165.2L79.5 163.8L80.4 162.5L81.5 161.2L82.7 160.1L84.2 159.1L85.8 158.4L87.4 157.8L89.1 157.4L90.7 157.2L92.2 157.2L93.8 157.2L95.4 157.4L97 157.6L98.7 158L100.2 158.6L101.1 159.5L101.1 160.5L100.4 161.7L99.4 163L98.4 164.4L97.4 165.7L96.5 167L96 168.4L96.1 169.7L97.2 170.5L98.6 170.9L100.1 170.9L101.6 170.7L103.1 170.6L104.7 170.4L106.2 170.3L107.8 170.2L109.3 170.1L110.9 169.9L112.5 169.7L114.1 169.5L115.8 169.2L117.4 168.9L118.9 168.4L120.5 167.6L122 166.7L123.3 165.7L124.6 164.6L125.8 163.5L127 162.3L128 161.1L129 159.7L129.9 158.3L130.8 156.9L131.7 155.4L132.6 153.9L133.7 152.3L134.8 150.9L136.2 149.8L137.7 149.4L139.1 149.8L140.2 150.8L141 152.2L141.7 153.6L142.5 154.9L143.4 155.6L144.5 155.6L145.7 155L146.9 154.1L148.2 153.3L149.4 152.4L150.7 151.4L151.8 150.3L152.8 149L153.7 147.5L154.4 145.9L155.1 144.4L155.8 143.5L156.5 143.6L157.1 144.7L157.6 146.4L158.2 148L158.9 149.6L159.8 151.2L160.9 152.8L161.9 154.4L162.6 156L163.1 157.5L163.4 159.1L163.5 160.8L163.4 162.4L163.4 164.1L163.5 165.7L163.7 167.4L164.1 169.3L164.7 171.4L168.8 166.2L180.2 157.9L190.5 141L190.5 121L180.2 104.1L168.2 89.8L150.6 84.2L140.3 83.6L129.3 81.4L123.2 82.3L112.5 85.8L99 89.8L82.9 95.5L61.8 111.8L52.9 131L55.2 144.8L59.9 154.9L68.9 165.4L70.8 169.5L71.1 172.4L68 174.2L66.8 176.9Z"/>
<path fill="#f3812f" d="M67 182.7L67.8 181.2L68.5 179.8L69.4 178.4L70.2 176.9L71.2 175.4L72.4 173.9L73.6 172.3L74.7 170.9L75.7 169.4L76.6 168L77.5 166.5L78.3 165L79.2 163.6L80.1 162.2L81.2 161L82.5 159.8L84 158.8L85.7 158L87.3 157.5L89 157.1L90.6 156.9L92.2 156.8L93.8 156.9L95.4 157L97.1 157.2L98.9 157.6L100.3 158.5L101.1 159.5L101.1 160.5L100.4 161.7L99.4 163.1L98.4 164.4L97.4 165.7L96.5 167L96 168.4L96.2 169.7L97.3 170.4L98.6 170.7L100.1 170.6L101.6 170.5L103.1 170.3L104.7 170.2L106.2 170.1L107.8 169.9L109.3 169.8L110.9 169.6L112.5 169.4L114.1 169.2L115.7 168.9L117.3 168.6L118.8 168.1L120.3 167.4L121.8 166.5L123.2 165.5L124.4 164.4L125.6 163.3L126.7 162.1L127.8 160.9L128.7 159.6L129.6 158.2L130.5 156.7L131.4 155.2L132.4 153.7L133.4 152.1L134.7 150.7L136.1 149.6L137.7 149.1L139.2 149.5L140.4 150.6L141.2 152L141.9 153.4L142.7 154.6L143.5 155.3L144.5 155.3L145.5 154.6L146.7 153.8L147.9 152.9L149.2 152.1L150.4 151.1L151.5 150.1L152.5 148.8L153.3 147.3L154.1 145.7L154.9 144.2L155.7 143.3L156.5 143.4L157.2 144.6L157.8 146.3L158.4 147.9L159.1 149.5L160 151.1L161.1 152.7L162.1 154.3L162.9 155.9L163.4 157.5L163.7 159.1L163.8 160.7L163.7 162.4L163.7 164.1L163.7 165.7L164 167.3L164.4 169.2L164.9 171.4L168.8 166.2L180.2 157.9L190.5 141L190.5 121L180.2 104.1L168.2 89.8L150.6 84.2L140.3 83.6L129.3 81.4L123.2 82.3L112.5 85.8L99 89.8L82.9 95.5L61.8 111.8L52.9 131L55.2 144.8L59.9 154.9L68.9 165.4L70.8 169.5L71.1 172.4L68 174.2L66.8 176.9Z"/>
<path fill="#e8502a" d="M66.7 182.5L67.5 181.1L68.2 179.6L69 178.2L69.9 176.7L70.9 175.2L72.1 173.7L73.3 172.1L74.4 170.6L75.4 169.2L76.3 167.8L77.2 166.4L78 164.8L78.9 163.4L79.9 162L81 160.7L82.3 159.6L83.8 158.5L85.5 157.7L87.2 157.1L88.9 156.7L90.6 156.5L92.2 156.4L93.8 156.5L95.5 156.6L97.2 156.9L99 157.3L100.4 158.4L101.1 159.5L101.1 160.5L100.4 161.7L99.4 163.1L98.4 164.4L97.4 165.7L96.6 167L96 168.4L96.2 169.7L97.4 170.2L98.7 170.5L100.1 170.4L101.6 170.2L103.1 170.1L104.6 169.9L106.2 169.8L107.7 169.7L109.3 169.5L110.8 169.3L112.4 169.1L114 168.9L115.6 168.6L117.2 168.3L118.7 167.8L120.2 167.1L121.6 166.2L123 165.2L124.2 164.2L125.4 163.1L126.5 161.9L127.6 160.7L128.5 159.4L129.4 158L130.3 156.6L131.2 155.1L132.1 153.5L133.2 151.9L134.5 150.5L136 149.3L137.7 148.9L139.3 149.3L140.6 150.4L141.4 151.8L142.2 153.2L142.9 154.4L143.6 155.1L144.5 155L145.4 154.3L146.5 153.4L147.7 152.6L149 151.7L150.1 150.8L151.2 149.8L152.2 148.6L153 147.1L153.7 145.5L154.6 144L155.7 143.1L156.6 143.3L157.4 144.5L158 146.2L158.6 147.8L159.3 149.4L160.2 151L161.3 152.5L162.4 154.2L163.2 155.8L163.7 157.4L164 159L164.1 160.7L164 162.4L164 164.1L164 165.6L164.2 167.3L164.6 169.2L165.1 171.3L168.8 166.2L180.2 157.9L190.5 141L190.5 121L180.2 104.1L168.2 89.8L150.6 84.2L140.3 83.6L129.3 81.4L123.2 82.3L112.5 85.8L99 89.8L82.9 95.5L61.8 111.8L52.9 131L55.2 144.8L59.9 154.9L68.9 165.4L70.8 169.5L71.1 172.4L68 174.2L66.8 176.9Z"/>
<path fill="#d42928" d="M66.5 182.4L67.2 180.9L67.9 179.4L68.7 178L69.6 176.5L70.6 175L71.8 173.4L73 171.9L74.1 170.4L75.1 169L76 167.6L76.8 166.2L77.7 164.7L78.6 163.2L79.6 161.8L80.7 160.5L82.1 159.3L83.7 158.2L85.4 157.4L87.1 156.8L88.9 156.4L90.5 156.2L92.2 156.1L93.9 156.1L95.5 156.3L97.2 156.6L99.1 157L100.5 158.2L101.1 159.5L101.1 160.5L100.4 161.8L99.4 163.1L98.4 164.4L97.4 165.7L96.6 167L96 168.4L96.2 169.7L97.5 170.1L98.7 170.3L100.1 170.2L101.6 170L103.1 169.8L104.6 169.7L106.2 169.5L107.7 169.4L109.3 169.2L110.8 169L112.4 168.8L114 168.6L115.6 168.3L117.1 168L118.6 167.5L120.1 166.9L121.5 166L122.8 165L124 163.9L125.2 162.8L126.3 161.7L127.3 160.5L128.3 159.2L129.1 157.8L130 156.4L130.9 154.9L131.9 153.3L133 151.8L134.3 150.3L135.9 149.1L137.7 148.6L139.4 149L140.8 150.2L141.7 151.6L142.4 153.1L143 154.2L143.7 154.8L144.4 154.7L145.3 154L146.3 153.1L147.5 152.3L148.7 151.4L149.9 150.5L150.9 149.5L151.8 148.3L152.6 146.9L153.4 145.3L154.4 143.9L155.6 142.9L156.7 143.2L157.6 144.4L158.2 146.1L158.8 147.8L159.5 149.3L160.4 150.8L161.6 152.4L162.7 154L163.5 155.7L164 157.3L164.3 159L164.4 160.7L164.3 162.4L164.3 164L164.3 165.6L164.5 167.2L164.8 169.1L165.3 171.3L168.8 166.2L180.2 157.9L190.5 141L190.5 121L180.2 104.1L168.2 89.8L150.6 84.2L140.3 83.6L129.3 81.4L123.2 82.3L112.5 85.8L99 89.8L82.9 95.5L61.8 111.8L52.9 131L55.2 144.8L59.9 154.9L68.9 165.4L70.8 169.5L71.1 172.4L68 174.2L66.8 176.9Z"/>
<path fill="#b31a21" d="M66.2 182.2L66.9 180.7L67.6 179.2L68.4 177.8L69.3 176.3L70.3 174.8L71.5 173.2L72.7 171.7L73.8 170.2L74.8 168.8L75.7 167.5L76.5 166L77.4 164.5L78.3 163L79.3 161.6L80.5 160.2L81.9 159L83.5 157.9L85.3 157.1L87 156.4L88.8 156L90.5 155.8L92.2 155.7L93.9 155.8L95.6 155.9L97.3 156.2L99.2 156.7L100.6 158.1L101.1 159.5L101.1 160.5L100.4 161.8L99.5 163.1L98.4 164.4L97.5 165.7L96.6 167.1L96.1 168.4L96.2 169.6L97.6 169.9L98.8 170.1L100.1 170L101.6 169.8L103.1 169.6L104.6 169.4L106.2 169.3L107.7 169.1L109.2 168.9L110.8 168.7L112.3 168.5L113.9 168.3L115.5 168L117 167.7L118.5 167.3L119.9 166.6L121.3 165.7L122.6 164.7L123.8 163.7L125 162.6L126.1 161.5L127.1 160.3L128 159L128.9 157.7L129.8 156.2L130.7 154.7L131.7 153.2L132.8 151.6L134.1 150L135.8 148.8L137.7 148.3L139.6 148.8L141 150L141.9 151.5L142.6 152.9L143.2 154L143.8 154.6L144.4 154.4L145.2 153.7L146.1 152.8L147.3 151.9L148.5 151.1L149.6 150.3L150.6 149.3L151.5 148.1L152.3 146.7L153.1 145.2L154.2 143.7L155.5 142.8L156.8 143.1L157.8 144.3L158.5 146L159.1 147.7L159.8 149.2L160.6 150.7L161.8 152.3L162.9 153.9L163.7 155.6L164.3 157.2L164.6 158.9L164.7 160.7L164.6 162.4L164.6 164L164.6 165.6L164.7 167.2L165.1 169.1L165.5 171.2L168.8 166.2L180.2 157.9L190.5 141L190.5 121L180.2 104.1L168.2 89.8L150.6 84.2L140.3 83.6L129.3 81.4L123.2 82.3L112.5 85.8L99 89.8L82.9 95.5L61.8 111.8L52.9 131L55.2 144.8L59.9 154.9L68.9 165.4L70.8 169.5L71.1 172.4L68 174.2L66.8 176.9Z"/>
<circle cx="183.6" cy="68.5" r="2.2" fill="#c3e5f8"/>
<circle cx="182.7" cy="69.7" r="2" fill="#6caee1"/>
<circle cx="181.9" cy="70.7" r="2" fill="#f4e450"/>
<circle cx="181" cy="71.9" r="2.2" fill="#e8502a"/>
<circle cx="179.8" cy="73.3" r="2.2" fill="#b31a21"/>
<circle cx="61" cy="169.6" r="8" fill="#dcf0fb"/>
<circle cx="61.1" cy="168.8" r="6.5" fill="#46ad4a"/>
<circle cx="59.5" cy="168" r="4.5" fill="#9ccb4e"/>
<circle cx="58.2" cy="167.8" r="3.2" fill="#f4e450"/>
<circle cx="57.6" cy="167.6" r="2" fill="#f3812f"/>
<circle cx="154.3" cy="189.3" r="7" fill="#e6f4fc"/>
<circle cx="152.6" cy="184.6" r="3.2" fill="#c3e5f8"/>
<circle cx="152" cy="182.2" r="2.8" fill="#6caee1"/>
<circle cx="151.5" cy="180.2" r="2.6" fill="#46ad4a"/>
<circle cx="151.7" cy="178.3" r="2.6" fill="#f4e450"/>
<circle cx="152.2" cy="176.4" r="2.6" fill="#f3812f"/>
<circle cx="152.4" cy="174.3" r="2.8" fill="#d42928"/>
<circle cx="157.4" cy="184.4" r="1.8" fill="#9dd0f0"/>
<circle cx="159.1" cy="183.3" r="1.8" fill="#f4e450"/>
<circle cx="160.7" cy="182.1" r="2.2" fill="#e8502a"/>
<circle cx="158.5" cy="188.3" r="1.8" fill="#f4e450"/>
<circle cx="133.6" cy="131" r="0.8" fill="#fff"/>
<path class="land" d="M30.1 76L50.5 74.3L54.3 76.7L56.9 78.9L61.7 82.5L66.2 84.3L64.3 86L62.5 85.7L64.7 87L66 86.9L68.9 86.5L73 84.5L75.8 85.3L80.1 85.6L82.6 87.5L85.7 87.1L89.5 87.6L91.6 86.7L95.4 86.3L97.6 85.7L99.7 84.4L101.9 84.1L103.9 83.5L104.1 81L105.2 78.8L106 79.5L105.9 83L106.9 80.8L107.3 78.3L106.9 76.3L108 73.5L109.8 70.6L111.8 67.6L113.7 65.9L115.6 64.7L113.9 66.5L112.1 68.6L110.2 71.5L109.9 73.8L110.1 75.5L111.7 74.4L113.4 74L114.9 73.3L115.6 75.6L118.1 75.3L119.2 76.7L120.4 78L119.9 80L119.4 81.4L117.5 82.8L117.7 84.8L119.3 84.3L121.4 83.7L122.8 85L124 85.3L122.6 86.9L121 87.5L119.5 87.6L120.3 88.9L121.8 89.9L124.2 90.7L123.9 92L122.4 94.2L121.2 96L119.5 98.6L117.1 98.7L115.1 98.9L112.5 99.8L110.1 100.9L108 101.5L105.9 101.8L105.4 103.8L104.4 105.7L104.1 107.6L104.5 108.3L102.5 108.4L101.3 108.8L101.5 110.6L100.3 111L98 112.8L97 113.9L95.2 113.1L94.1 115.8L93.6 117.6L94 118.9L92.5 120.8L92.4 123L91.5 124.7L93 125.3L92.5 126.7L94.8 126.9L96.2 126.7L97.7 127.2L99.4 128L97.5 129.4L95.6 129.7L94.6 130.3L93.2 131L91.7 132.5L90.3 132.9L92.8 134.2L95.3 134L95.5 136L94 136.9L92.1 136.8L90.2 137.5L88.6 136.1L88.4 134.2L86.8 133.5L84.8 132.7L83.8 131L82.8 130.1L81.4 129.2L78.9 127.2L76 126.2L73.5 126.6L70.4 128.2L69.7 129.9L67.7 133.9L66.4 136.9L66.6 140.1L64.1 140.2L61.9 141.1L59.3 143.4L59 144.4L61.8 145.4L64.7 144.1L66 143.3L68.2 145.5L70.4 146.1L73.2 144.4L74.4 143.1L77.1 143.5L79 142.6L81.8 142L82.2 142.4L81.9 144.4L81.5 147.9L81.2 150.1L79.3 151L77.5 152L76.8 154L78.6 155.5L82 155.3L80 157.7L78.2 160.7L75.9 163L75 167.6L74.6 170.8L72.6 172.6L70.5 172.3L65.9 170.1L63.7 165.9L62 162.1L58.8 161.2L55.9 159.7L53.3 159L55.6 160.2L58.7 162L60.9 164.9L60.5 166.2L58.2 165.4L56.6 166.9L55.6 169L55.5 170.8L56.4 172.9L59.6 172.9L57.3 175L55 173.7L52.6 171.4L49.1 169.2L50.4 167.7L53.5 169.2L54.4 168.6L52.3 167.2L50.9 166.1L49 164.3L47.1 162.5L45 162L43.9 162.2L43 162.9L42.7 164.1L41.6 162.3L40.2 160.4L38.7 158.6L38 158.4L36.9 158.7L19 155.4L9 131L13.3 98.8Z M93.2 173L92.7 170.5L91.8 168L92.5 165.7L94.8 161.6L96.2 159.2L98.2 156.9L101.6 156L102.8 155.9L102.5 153.2L104.4 152.2L106.2 149.8L108.2 147.5L110.2 145.3L110.2 143.4L109.4 141.8L109.2 140.4L111 139L112 137.8L113.8 138.6L116 138.8L117.2 138.3L118.9 138.7L120.8 139L122 140.1L123.4 140.8L125.1 141.1L127 141.1L127.9 142.3L128.4 143.9L129.3 145.9L130.3 146.9L129.1 148.4L127.9 149L126.8 150.6L126 152.4L125.8 154.3L124.8 156L124.1 157.8L122.7 159.3L121.3 160.8L120.5 162.6L120.1 164.5L119.4 165.3L117.2 164.7L118.9 166.1L117.7 166.6L115.6 167.1L113.2 167L111.4 166.6L109.2 167.5L106.8 168.2L104.9 167.8L102.8 167.6L100.3 169.3L97.5 170.9L95.4 172.2Z M117 179.2L114.2 177.3L114 175.1L114.2 173.6L116 172.5L116.5 174.4L117.8 173.8L119.5 174.3L121.1 174.1L122 174.8L122.6 176.5L121.6 178.3L119.9 178.9Z M115.3 246.7L118 230.4L118.8 227.8L118.8 225.5L118.4 223.6L121.1 222.4L124.7 223.3L127.4 223.7L130.7 223.9L131.7 221.3L131.9 219.1L131.8 217.7L130.4 215.5L127.4 214L126.7 212.7L129.4 212L131.3 212.5L131 210.1L133.3 210.8L135 209.7L135.9 207.6L137.8 206.7L138.9 205.1L139.6 203L141.1 202L143.5 201.3L144.3 200.3L143.2 197.3L142.8 194.3L145 192.4L145.2 194.9L145 197L145.5 198.4L146.8 199L147 199.8L148.3 199.1L149.7 198.2L150.9 198.9L152.8 197.8L155.1 196L155.9 196.6L157 196L157.8 194.6L157.6 193.1L156.8 190.6L157.5 188.7L159.1 189.6L159.7 189.4L158.8 186.8L157.6 186.3L158.1 184.7L161.2 182.9L162.8 181.1L160.6 180.8L158.7 182.4L157.6 183.6L156.3 184.4L154.4 183.9L153.6 182L152.6 179.2L153.5 176.7L154 174.3L152.8 173.1L151.4 174.4L151.3 176.5L151 178.7L149.7 181.3L150.1 184.3L151 185.1L152.2 185.7L152.4 187.2L151.2 189.3L151.6 191.3L151.7 194L150.5 194.8L150.1 196.2L148.7 196.5L148 195.4L147.1 193.5L146.4 192.2L145 189.7L144.4 188L144 189.9L141.7 192.4L141.1 192.4L139.8 191.6L139.1 190L138.8 187.8L138.4 186.2L138.5 184.6L139.8 182.8L141.5 181.2L142.3 180.5L142.7 179L143.5 176.8L143.7 174.7L144.4 172.9L144.7 171L145.2 170.3L145.6 169.1L146.2 167.5L147.1 166.2L148.2 164.7L149.2 163.3L150.6 162.9L152.5 163.1L152.8 164.3L153.7 163.8L154.9 163.7L156.6 163.2L159.1 163.1L161.5 163.1L162.5 164L162.7 165.7L161.7 167L158.4 167.7L157 167.9L158.6 168.8L160.9 170.3L162.9 170.6L164.3 170.3L164.9 168.3L165.3 168.1L163.7 166.9L163.6 164.4L164.9 163.4L163.7 161.6L161.6 160.7L163.8 160.1L164.9 161.8L165.7 160.9L165.3 159.1L166.7 156.8L166.7 155.1L167.3 155L167.7 152.7L168.7 151.3L168.1 150.5L167.2 150L169.7 148.2L171.5 146.7L171.9 146.5L169.5 146.2L166.8 145.2L164.6 142.9L163.9 142L163.7 141.4L165.3 140.8L168.1 141.6L171.9 142.4L173.7 143.3L175.7 145.5L176.3 144.9L174.9 142.8L172.1 141.7L168.3 141L166.6 139.8L166 138.2L167.1 137.8L168.2 137.1L167.4 136.3L169.4 135.4L164.5 136.2L164.2 133.1L162 132.2L161 130.5L160 129.2L159.5 127.6L157.7 125.9L156.1 125.3L157.2 124L157.3 121.4L158.2 120.3L160.3 120.2L163.4 121.3L164.6 122.1L162.8 120.4L161.5 119.1L161.8 117.5L161.1 116.1L161.7 115.1L160.6 113.4L158.6 113.5L158.1 112.8L158.1 111.2L159.2 109.9L160.8 108.2L160.7 106.6L159.3 107L158.1 105.6L156.9 104.7L154.7 105.4L154.1 105.6L152.9 103.5L150.9 101.6L150.6 99.8L148.9 98.1L146.4 96.8L146.2 94.3L143.9 93.8L142 93.3L139.9 93.5L139.6 93.2L136.3 92.5L134 90.8L132.2 89.9L130.3 88.6L127.1 87.6L125.4 86.1L126.3 84.7L127.2 82.6L128 82.1L130.2 82.9L132.4 84.2L132.8 85.7L134 84.1L135.7 82.6L134.2 79.2L134.4 77.8L138.3 77L142.5 74.9L143.4 73.8L146.4 75.4L149.2 74.9L150.7 73.2L151.8 71.4L152.3 68.8L154 68.3L154.8 65.9L158.3 63.1L159.8 63.7L162.2 61.3L163.9 60.6L163.5 63L162.5 67.1L160.9 70.9L158.1 73.7L155 75.1L151.3 77L148 79.2L147.3 80L149.2 78.5L152.4 78L152 80.4L156 79.5L158.9 77.9L161.5 78.5L162.2 79.8L165.1 80.6L167.5 82.6L169.3 83.7L172.6 83.7L177.1 82.7L181.3 82.5L181.2 80.9L181.3 79L179.3 76.5L178.4 75.1L180.1 73L183.6 70.4L185.9 68.2L189.6 67L194.8 65.8L199.2 65.4L202.6 66.7L203.3 68.5L205.9 68.8L208.4 68.9L210.6 68L213.3 69.2L228.4 62.1L258.2 131L241.5 193.3L206.8 231.8L197.5 219L189.3 223.6L187.5 226.3L183.3 226.4L180.1 224.4L178.5 222.3L178.4 220.1L181.2 217.3L181.3 217L184.6 214.3L186.6 211.1L188.7 209.7L191.7 209.5L194.8 208L196.8 206.3L198 203.8L196.5 202.1L193.3 202.2L189.3 202.3L186.6 202.4L187.3 199.7L187.1 196.5L184.4 199.7L183.6 202.4L185.1 203.2L186.5 203L184.3 206.2L181.3 205.8L181.1 204.1L179.2 204L177.8 204.6L177.6 208.1L177.4 211L177.9 212.7L177.4 215.2L179 216.4L181.1 216.6L179.8 217.8L177.4 220.1L174.5 220.7L174 222.7L172.2 222.7L173 224.8L176.4 227.2L174.8 230.4L171.4 228.5L168.4 226.6L166.6 224.8L165.8 222L163.7 221L159.2 220.1L157 218.4L155.9 217.1L154.8 217.8L154.3 216.4L152.5 217.5L152.9 219.4L155.2 220.9L156.9 223.1L160.1 223.6L164.3 225.4L165.5 226.4L162.6 226.4L163.7 229.4L162.1 232.3L162 229.9L160.7 227.9L157.8 226.8L155.6 226.2L152.1 224.4L150.2 222.2L147.8 220.8L145.3 222.5L142.6 224L140.1 223.7L138.5 225.4L137.3 228.4L134.5 230.5L133.1 233.9L133.6 248.2Z M84.5 153.4L84.8 152.7L84.9 148.7L85.8 145.2L86.2 142.8L85.4 141.2L87.5 141.2L88.6 143.9L90.7 144.1L92.6 143.6L94 141.6L95.3 140.2L96.2 138.3L95.3 136.4L96.6 133.9L95.6 132.7L97.5 131.3L100.4 131.1L102.7 131.5L102.9 132.1L102.8 133.7L101.1 133.6L102.6 135.4L103.1 136.1L101.8 138.3L100.7 140.1L99.4 142.5L98.3 145.3L96.6 146.3L95.6 148.7L94.8 151.6L94.4 152.5L93.1 152.5L91.9 152.3L90.4 151.6L91.8 148.3L89.7 150.1L89 151.8L87.4 153L85.8 153.5Z M108.1 131.2L108 135.1L109.5 135.9L111.6 136.7L113.5 136.4L115.8 137.3L118.1 137.9L120.3 138.2L121.2 137.3L121.4 135.4L120.4 134.1L119.2 132.9L118.1 131.5L117.2 130.6L115.7 131.6L114.8 132.2L113.4 132.4L111.9 131.8L110.6 131.8L109 131.2Z M111.3 131.6L113.4 132.1L115.3 131.8L117.2 130.3L116.3 129.3L114.8 128.9L113.5 129.2L112.3 130.3Z M104.7 136.1L105.7 136.2L107.1 135.7L107.1 133.8L107.7 131.2L108.7 129.7L107.6 128.3L106.2 129.6L104.6 130L104.2 132L104.4 134.1Z M99.5 128.3L100.8 130.7L102.9 130.9L103.5 129.7L103.2 128.1L101.1 127.7Z M98.6 125.8L100.6 127.1L103.1 127L102.9 125L101.7 123.9L99.7 124.1Z M94.2 123L95.3 123.6L97.2 123.9L99.7 123.5L101.8 122.8L103 122.2L104.3 121.2L103.3 120L104.7 118.1L104.7 115.3L102.9 114L101.6 114.3L100.4 113.7L98.3 113.4L96.9 114.7L95.3 117.1L95.2 120Z M103.2 111.5L105.7 110.9L107.1 112.6L108.9 114.4L108.4 115.9L106.7 117L104.9 117.1L104.2 114.7L103.2 112.9Z M106.2 121L106.3 123.2L108.1 123.9L109.7 123L109.6 121.3L110.4 119.4L108.9 118.1L107.6 119.4Z M105.5 126.8L107.3 127.4L108.8 126.8L108.8 125L106.8 125.1L105.7 125.8Z M104.7 129L106 129.3L106.5 128.2L105.2 127.8Z M110.5 118L111 120L112.4 120.5L112.4 118.5L111.9 116.9Z M111 126.6L112.1 127.6L113.9 126.5L113.1 125.1Z M110.9 128.4L112.3 129.1L112.3 128Z M111 122.8L112.3 123.2L113.5 122.9L112.4 121.5Z M92.9 126.4L94.4 127.2L95.7 126L94.5 124.5L93.5 125Z M82.5 138.2L83.9 139.6L85.5 139.3L86.7 138L87.6 135.8L87.7 134.6L86.2 133.6L83.8 133.6L82.5 134.8L83.3 136.3Z M80.8 137.9L82.1 138.4L82 137.2Z M80.1 140.8L81.3 140.7L80.8 140Z M64.8 182.4L66.8 181.9L68.3 180.2L69.3 178.6L68.7 176.4L68.5 174.9L71.7 173.6L69.5 172.6L67.2 173L64.8 173.2L62.4 173.3L61.6 173.7L63 176L64.2 178.2L63.4 179.3L64.9 180L64.5 181.2Z M62.7 169L63.2 167.7L62.6 165L62.2 166.6Z M56.3 171.3L57.4 171.2L57.2 168.3L56 168.8Z M65.2 85.8L66.6 84.5L69 83.7L71.8 82.9L73.3 83.4L71.3 84.9L68.9 85.7L66.5 86.2Z M77.5 82.3L80.4 82.2L82.5 83.3L81.2 84.4L79.7 83Z M106.1 73.3L104.3 75.4L105.1 76.8L106.4 75.2L106.5 73.6Z M124.2 80.1L123.7 80.8L125.7 81.2L126.3 80.5Z M119.5 74.5L119.5 75.6L120.9 75.2L120.7 74.4Z M134.4 94.7L133.9 95.9L132.4 95.9L132 94.9L133.3 94.5Z M153 109.5L152.3 110.9L150.9 111.4L150.3 110.4L150 108.5L149 108.2L149.4 107.1L151.4 108.2Z M149.1 106.7L148.2 107.6L147.4 106.6L148 106.1Z M154 106.7L152.8 107.3L152 106.2L152.8 105.6Z M154.6 128.4L153.8 129.8L152.4 129.5L151.9 128.6L153.1 127.6L154.3 127.4Z M155.9 126.9L154.4 127L153.4 126.2L154.6 125.4L155.7 125.7Z M151.9 129.9L150.5 129.5L150.1 129.1L151.2 128.5L152 129.1Z M164.6 150.9L163.7 152L161.2 152.7L160 151.2L159.2 149.6L158.4 148.4L157.2 146.9L156.5 145L156.5 143.2L156.2 141.1L156.5 140L157.7 140.5L158.3 143L159 145.7L160 147.8L161.1 149.7L162.7 150.7L164.2 150.5Z M166.9 150.6L165.5 150.4L166.1 149.6Z M163.8 157.8L163 157L163.7 156.4L164.4 157.1Z M147.1 143.6L146.1 143.1L146.5 142L147.6 142.5Z M148.6 141.9L147.6 141L147.6 139.9L148.8 140.1L149.1 141.1Z M149.5 140L148.5 139.1L149 138.2L149.8 138.7Z M140.9 155.5L139.3 153.9L138.6 152.7L137.7 151.4L137.3 150.1L138.2 149.3L139.1 149.5L139.4 149L140.4 150.6L141.4 151.3L141 152.4L140.9 153.5Z M140.1 150.1L139.7 148.7L140.5 147.6L142 147.5L142.3 149.2L140.9 150Z M142.6 153.3L141.7 152.2L142.2 151.4L143.3 152.3Z M125.8 208.9L128 206.8L129.6 206.5L130.1 206.3L128.4 206L126.8 205.6L128.3 204.5L127.6 203.4L128 202.4L129.9 202.5L130.1 201L129.4 199.7L129.4 199.1L127.7 199.4L128.1 197.8L127.9 196.9L126.9 198.1L126.8 195.6L127 193.6L128.3 191.4L130.4 191.6L129.2 193.3L131.4 193.5L131.3 194.7L129.9 196.9L130.7 196.9L131.7 198L132.3 199.9L133.5 200.9L133.7 202L134 203.2L135.5 203.4L135.8 204.2L135.2 205.7L134.7 206.6L135.4 206.5L135.3 207.2L134 207.8L132 208L130.4 208.2L128.7 208.8L127.1 208.6L126.5 209.2Z M120.7 205.5L120.3 203.7L121.4 203L121.4 201.5L121.1 201.1L121.5 199.6L123.2 199.7L123.2 198.9L124.2 198L125.1 197.7L126.3 198.2L127 199.6L126.3 200.5L126 202.2L125.5 204.4L122.9 205Z M175.6 75.9L176.5 73.7L178 71.4L179.4 68.5L180.4 65.8L180.7 64.4L182.2 66.6L183.9 65.2L184.8 63.1L185.5 60.9L185.5 62.6L187.3 62L185.9 64L183.9 66.6L181.7 68.9L180.2 71.8L178.3 74.3L177.2 74.8Z M188.1 61.5L187.9 58.1L185.4 56.2L186 53.9L188.5 54.6L191 54L192.3 56.7L193.8 57L196.1 56.2L193.8 58.5L192 58.4L190 59.6Z M194.9 55.6L194.5 54.7L195.4 53L199.1 48.6L202 51L198.4 54L196.7 55.3L196 55.6L195.9 54.6Z M149.2 227.2L148 226L148.4 224.3L148.9 223.6L149.5 225.8Z M148.5 231.7L147.7 228.6L149.4 227.6L150.5 229L150.7 231.3Z M153.6 191.7L153.6 189.8L154 190.5Z M147.5 197.6L146.3 196.4L147.6 195.3L148.2 196.8Z M101.9 154.4L103.3 154.7L103.5 153.3L102.2 153.2Z"/>
<path class="lake" d="M213 200.1L210.3 194.7L208 195.3L205.3 194.9L202.8 194.4L200.3 193.2L199.2 191.7L198.9 188.8L198.6 187.5L200 184.8L200.6 183.3L202.4 182.8L204.7 184L203.6 186.6L203.1 188.7L205.9 189.1L208.9 188.8L210.2 189.8L212.1 190.2L212.5 187.7L213.7 188.8L214 191.6L218.2 193.6Z M208.9 171.9L210.4 172.2L211.8 174.3L213.7 175.4L213.5 178.1L212.1 179.5L209.7 178L208.7 176.1L208.3 174.2Z M47.9 139.3L48.4 137.7L47.6 135.5L48.4 133.5L49.5 133.9L47.9 130.3L48 127.9L49.7 130.3L51.4 132.4L52.5 133.8L52.4 136L50.9 138.2L49 139Z M36.9 135.4L39.8 134.4L43.2 134.9L43.4 134.2L44.3 134.9L46.4 137.1L46.7 138.6L46.3 139.1L44.5 137.9L42.2 136.6L40 137.1L37.7 136.7Z M46.6 139.4L47.5 141.6L47.4 143.9L47.3 145.1L45.6 146.7L44.4 146.2L45.6 144.1L43 144.2L40.6 143.4L42 142.2L41.9 140.8L43.3 141.6L44.8 141.3L46 139.9Z M37.5 142.1L38.2 142.5L39.2 145.1L40.9 148.2L41.3 149.1L40.2 148.3L38.8 146.9L37.3 144.5Z M41.9 147.5L43.2 148.6L44.2 150.8L45 152.4L43.6 153.1L42.6 151.2L42.2 148.8Z"/>
<path class="lakeg" d="M56.5 121.8L58.7 122.5L60.9 122.1L63.8 121.2L64.1 120.4L62.3 119.7L60 120.7L57.8 121.4Z M83.9 105.7L83.8 107.2L82.4 107.7L82.4 108.7L83.5 111.3L84.4 113.6L84.3 112.1L85.2 109.4L85 107.8L84.6 106.5Z M93.6 104.8L92.9 106.6L93.1 108.6L93.5 110L95.4 109.4L95.5 107.6L97.5 105.7L95.3 105.7Z M77.2 109.3L77.4 111.6L77 114.2L76.6 113.6L77.2 110.5Z M70.3 116.6L72 118.2L73.1 118.1L71.3 116.6Z M163.5 180.7L164.7 179.3L163.8 177.9L161.7 177.8L161.5 179.3L162.9 180.1Z M166.4 176.2L166 175.2L163.5 174L164.1 175.3L165.3 176.2Z M146.8 190.6L146.4 189.7L147.4 188.4L148.2 189.5Z M90.5 145.4L92 146.2L90.9 144.9Z"/>
<path d="M206.8 113L205.6 111L203.1 109.8L200.4 108.3L197.7 108.1L196.1 108.5L197 109.2L200.3 109.3L202.8 110.5L205.4 111.8Z M219.4 155.9L217.4 155L216.1 153.1L217.7 150.4L217.9 147.4L218.6 148.3L218 151.3L218.2 154Z" fill="#9a9a9a" stroke="#111" stroke-width="0.7" stroke-linejoin="round"/>
<path d="M110.7 69.8L112.4 67.7L113.9 65.9L115.5 64.5L117 62.9L118.2 61.5L119.7 60.1" fill="none" stroke="#151515" stroke-width="1.5" stroke-linecap="round" stroke-linejoin="round"/>
<circle cx="128.4" cy="166.7" r="0.7" fill="#111"/>
<circle cx="143.2" cy="159" r="0.7" fill="#111"/>
<circle cx="127" cy="184.4" r="0.7" fill="#111"/>
<circle cx="132.3" cy="188.2" r="0.7" fill="#111"/>
<circle cx="130.5" cy="190.8" r="0.7" fill="#111"/>
<circle cx="126" cy="192.8" r="0.7" fill="#111"/>
<circle cx="165.1" cy="60.2" r="0.7" fill="#111"/>
<circle cx="173.5" cy="55.9" r="0.7" fill="#111"/>
<circle cx="181" cy="55.2" r="0.7" fill="#111"/>
<circle cx="184.8" cy="55.1" r="0.7" fill="#111"/>
<circle cx="150.1" cy="65" r="0.7" fill="#111"/>
<circle cx="142.4" cy="59.3" r="0.7" fill="#111"/>
<circle cx="128.4" cy="56.9" r="0.7" fill="#111"/>
<circle cx="120.9" cy="58.9" r="0.7" fill="#111"/>
<circle cx="117.6" cy="61.7" r="0.7" fill="#111"/>
<circle cx="122.5" cy="68" r="0.7" fill="#111"/>
<circle cx="126.5" cy="74.6" r="0.7" fill="#111"/>
<circle class="g" cx="133.6" cy="131" r="28.4"/>
<circle class="g" cx="133.6" cy="131" r="57.8"/>
<circle class="g" cx="133.6" cy="131" r="89.4"/>
<path class="g" d="M133.6 131L133.6 231.7M147.8 155.6L183.9 218.2M158.2 145.2L220.8 181.4M133.6 131L234.3 131M158.2 116.8L220.8 80.7M147.8 106.4L183.9 43.8M133.6 131L133.6 30.3M119.4 106.4L83.2 43.8M109 116.8L46.4 80.6M133.6 131L32.9 131M109 145.2L46.4 181.4M119.4 155.6L83.2 218.2"/>
</g>
<circle cx="133.6" cy="131" r="100.7" fill="none" stroke="#303030" stroke-width="1.1"/>
<text class="l" x="126.7" y="29.8" textLength="14" lengthAdjust="spacingAndGlyphs">180</text>
<text class="l" x="185.7" y="44" textLength="23.2" lengthAdjust="spacingAndGlyphs">150 E</text>
<text class="l" x="224.1" y="82.6" textLength="23.1" lengthAdjust="spacingAndGlyphs">120 E</text>
<text class="l" x="238.4" y="134.6" textLength="18.1" lengthAdjust="spacingAndGlyphs">90 E</text>
<text class="l" x="224.1" y="187.4" textLength="18.3" lengthAdjust="spacingAndGlyphs">60 E</text>
<text class="l" x="186.1" y="225.8" textLength="18.1" lengthAdjust="spacingAndGlyphs">30 E</text>
<text class="l" x="131.1" y="239.9" textLength="5.1" lengthAdjust="spacingAndGlyphs">0</text>
<text class="l" x="59.7" y="225.3" textLength="21.5" lengthAdjust="spacingAndGlyphs">30 W</text>
<text class="l" x="20.8" y="187.2" textLength="21.6" lengthAdjust="spacingAndGlyphs">60 W</text>
<text class="l" x="6.9" y="134.3" textLength="21.3" lengthAdjust="spacingAndGlyphs">90 W</text>
<text class="l" x="16.4" y="82.3" textLength="25.8" lengthAdjust="spacingAndGlyphs">120 W</text>
<text class="l" x="54.8" y="43" textLength="26" lengthAdjust="spacingAndGlyphs">150 W</text>
</g>
<g id="panel-b">
<g clip-path="url(#cb)">
<circle cx="388" cy="131" r="100.7" fill="#fff"/>
<path fill="#dcf0fb" d="M334 83L336 77L342 68.4L346.6 56.7L353.6 50.9L364 47L375.7 45.5L387.3 43.5L402.4 40L419.9 40.5L431.5 45L438.5 51L443.1 55L450 57L456 63L452 69L445 66L440 70L400 75L360 85L345 86Z M362 166L355 171L358 177L366 181L374 185.5L382.6 185.8L388 189L390.5 194L392.5 199L397.6 199.6L398.6 189L398 178L400 170Z M339 157L344 158L349 161L349 169L345 166L340 163L336 168L331 176L331 184L322 185L319 181L312 179L302 177L300 172L310 170L322 172L326 168Z"/>
<path fill="#dcf0fb" d="M446.3 67.7L446.2 66L446.2 64.2L446 62.1L445.4 59.8L444 57.6L442.2 55.5L440 53.9L437.6 52.6L435.2 51.8L432.9 51.3L430.8 51.4L428.9 51.5L427.2 51.7L425.8 51.9L424.7 52L423.7 52.1L422.7 52L421.4 51.7L419.6 51.1L417.3 50.6L414.7 50.4L411.9 50.5L409.1 51.1L406.5 52.1L404.1 53.5L402 55.1L400.4 56.6L399.2 58L398.2 59L397.3 59.8L396.6 60.5L395.9 60.9L395.1 61.3L394.3 61.6L393.2 61.8L392.1 61.9L390.8 62L389.6 61.9L388.5 61.8L387.6 61.6L386.7 61.2L385.6 60.6L384.2 59.8L382.5 58.9L380.7 58.1L378.7 57.3L376.2 56.6L373.1 56.5L369.5 56.9L366.1 58.7L363.3 60.8L361.4 63.2L360.1 65.4L359.1 67.4L358.4 69.2L357.7 70.9L357.1 72.6L356.6 74.2L356.1 75.8L355.9 77.5L355.7 79.2L366.3 77.4L369.3 84.8L376.4 87.6L381.8 86.6L389.7 81.2L401.9 79L410.7 82.2L421.2 83.6L435.3 82.1L433.7 75.6L431.3 74.5L434.9 68L438.7 64.2L441 61.2L441.8 58.3Z"/>
<path fill="#c3e5f8" d="M445.5 68L445.3 66.4L445.2 64.6L444.9 62.6L444.3 60.5L443 58.5L441.3 56.7L439.3 55.2L437.2 54.2L435 53.5L432.8 53.1L430.9 53.1L429 53.3L427.4 53.5L426 53.6L424.7 53.8L423.6 53.9L422.4 53.8L421 53.4L419.2 52.9L417.1 52.3L414.7 52.1L412.2 52.2L409.6 52.8L407.2 53.7L405 54.9L403.2 56.4L401.6 57.9L400.4 59.2L399.4 60.3L398.5 61.2L397.6 61.9L396.7 62.5L395.8 62.9L394.7 63.3L393.5 63.5L392.2 63.7L390.8 63.7L389.4 63.7L388.2 63.5L387.1 63.3L386 62.8L384.8 62.1L383.4 61.3L381.8 60.5L380 59.7L378.1 59L375.8 58.3L372.9 58.1L369.6 58.4L366.6 59.9L364 61.8L362.2 63.9L360.9 66L359.9 67.9L359.1 69.7L358.4 71.3L357.8 73L357.3 74.5L356.7 76.1L356.4 77.7L356.1 79.4L366.3 77.4L369.3 84.8L376.4 87.6L381.8 86.6L389.7 81.2L401.9 79L410.7 82.2L421.2 83.6L435.3 82.1L433.7 75.6L431.3 74.5L434.9 68L438.7 64.2L441 61.2L441.8 58.3Z"/>
<path fill="#9dd0f0" d="M444.7 68.3L444.5 66.6L444.2 64.9L443.9 63.1L443.3 61.1L442.1 59.3L440.6 57.7L438.8 56.5L436.8 55.6L434.8 55L432.8 54.7L430.9 54.7L429.2 54.9L427.6 55.1L426.1 55.2L424.8 55.4L423.5 55.4L422.2 55.3L420.7 55L418.9 54.4L416.8 53.9L414.6 53.7L412.4 53.8L410.1 54.3L407.9 55.1L405.9 56.3L404.2 57.6L402.8 59L401.5 60.3L400.5 61.5L399.5 62.4L398.5 63.2L397.5 63.9L396.4 64.4L395.2 64.8L393.8 65.1L392.3 65.2L390.8 65.3L389.3 65.3L387.9 65.1L386.6 64.8L385.4 64.3L384.1 63.6L382.7 62.8L381.1 61.9L379.4 61.2L377.5 60.5L375.4 59.8L372.8 59.5L369.8 59.7L367 61L364.6 62.6L362.9 64.6L361.6 66.5L360.6 68.4L359.8 70.1L359.1 71.7L358.4 73.3L357.8 74.8L357.3 76.4L356.8 77.9L356.4 79.5L366.3 77.4L369.3 84.8L376.4 87.6L381.8 86.6L389.7 81.2L401.9 79L410.7 82.2L421.2 83.6L435.3 82.1L433.7 75.6L431.3 74.5L434.9 68L438.7 64.2L441 61.2L441.8 58.3Z"/>
<path fill="#6caee1" d="M444.1 68.5L443.8 66.9L443.5 65.2L443.1 63.4L442.5 61.6L441.4 60L440 58.6L438.3 57.5L436.5 56.7L434.6 56.2L432.8 55.9L431 56L429.3 56.2L427.7 56.3L426.2 56.5L424.8 56.7L423.4 56.7L422 56.6L420.4 56.2L418.6 55.7L416.6 55.2L414.6 54.9L412.5 55L410.4 55.5L408.4 56.2L406.6 57.3L405 58.6L403.6 59.9L402.4 61.2L401.3 62.4L400.3 63.4L399.2 64.3L398.1 65L396.9 65.6L395.5 66L394 66.3L392.5 66.5L390.8 66.6L389.2 66.5L387.6 66.3L386.2 66L384.9 65.5L383.6 64.7L382.1 63.9L380.6 63.1L378.9 62.4L377.1 61.7L375.1 61L372.7 60.7L369.9 60.8L367.3 61.8L365.1 63.3L363.5 65.2L362.2 67L361.2 68.7L360.4 70.4L359.6 72L358.9 73.5L358.3 75L357.7 76.6L357.2 78.1L356.7 79.7L366.3 77.4L369.3 84.8L376.4 87.6L381.8 86.6L389.7 81.2L401.9 79L410.7 82.2L421.2 83.6L435.3 82.1L433.7 75.6L431.3 74.5L434.9 68L438.7 64.2L441 61.2L441.8 58.3Z"/>
<path fill="#4a8fcf" d="M443.6 68.6L443.2 67.1L442.8 65.4L442.4 63.7L441.8 62.1L440.8 60.6L439.5 59.3L437.9 58.3L436.2 57.7L434.5 57.3L432.7 57.1L431 57.1L429.4 57.3L427.8 57.5L426.3 57.6L424.8 57.8L423.4 57.8L421.9 57.7L420.2 57.3L418.4 56.8L416.5 56.3L414.6 56L412.6 56.1L410.7 56.5L408.9 57.2L407.2 58.2L405.7 59.4L404.4 60.8L403.2 62L402.1 63.2L401 64.3L399.9 65.2L398.6 66L397.3 66.6L395.8 67.1L394.2 67.4L392.5 67.6L390.8 67.7L389.1 67.6L387.4 67.4L385.9 67.1L384.5 66.5L383.1 65.7L381.6 64.9L380.1 64.1L378.5 63.4L376.7 62.7L374.8 62.1L372.6 61.7L370 61.7L367.6 62.6L365.5 63.9L363.9 65.6L362.7 67.4L361.7 69.1L360.9 70.7L360.1 72.2L359.4 73.8L358.7 75.2L358.1 76.7L357.5 78.3L357 79.8L366.3 77.4L369.3 84.8L376.4 87.6L381.8 86.6L389.7 81.2L401.9 79L410.7 82.2L421.2 83.6L435.3 82.1L433.7 75.6L431.3 74.5L434.9 68L438.7 64.2L441 61.2L441.8 58.3Z"/>
<path fill="#3f9f8a" d="M443.3 68.7L442.8 67.2L442.4 65.6L442 63.9L441.4 62.3L440.4 60.9L439.2 59.7L437.7 58.8L436.1 58.2L434.4 57.9L432.7 57.7L431.1 57.8L429.4 57.9L427.9 58.1L426.3 58.3L424.9 58.4L423.4 58.5L421.8 58.3L420.1 57.9L418.2 57.4L416.4 56.9L414.5 56.6L412.7 56.7L410.9 57.1L409.2 57.8L407.6 58.7L406.2 59.9L404.9 61.2L403.7 62.5L402.5 63.7L401.4 64.8L400.2 65.7L398.9 66.5L397.5 67.2L396 67.7L394.3 68.1L392.6 68.3L390.8 68.3L389 68.3L387.3 68.1L385.7 67.7L384.2 67.1L382.8 66.3L381.4 65.5L379.8 64.7L378.2 64L376.5 63.3L374.7 62.7L372.5 62.3L370.1 62.2L367.8 63L365.8 64.3L364.2 65.9L363 67.6L362 69.2L361.1 70.8L360.4 72.4L359.6 73.9L359 75.4L358.3 76.8L357.7 78.3L357.1 79.8L366.3 77.4L369.3 84.8L376.4 87.6L381.8 86.6L389.7 81.2L401.9 79L410.7 82.2L421.2 83.6L435.3 82.1L433.7 75.6L431.3 74.5L434.9 68L438.7 64.2L441 61.2L441.8 58.3Z"/>
<path fill="#46ad4a" d="M443 68.8L442.6 67.3L442.2 65.7L441.7 64.1L441.1 62.5L440.2 61.2L438.9 60L437.5 59.2L436 58.6L434.4 58.3L432.7 58.2L431.1 58.2L429.5 58.4L427.9 58.6L426.4 58.7L424.9 58.9L423.3 58.9L421.7 58.8L420 58.4L418.1 57.8L416.3 57.4L414.5 57.1L412.8 57.2L411.1 57.6L409.4 58.2L407.9 59.1L406.5 60.3L405.2 61.6L404 62.8L402.9 64L401.7 65.1L400.5 66.1L399.1 66.9L397.7 67.6L396.1 68.2L394.4 68.5L392.6 68.7L390.8 68.8L389 68.7L387.2 68.5L385.6 68.1L384 67.5L382.6 66.7L381.1 65.9L379.6 65.1L378 64.4L376.4 63.8L374.6 63.2L372.5 62.7L370.1 62.6L367.9 63.3L365.9 64.5L364.4 66.1L363.2 67.8L362.2 69.4L361.3 71L360.5 72.5L359.8 74L359.1 75.4L358.5 76.9L357.8 78.4L357.2 79.9L366.3 77.4L369.3 84.8L376.4 87.6L381.8 86.6L389.7 81.2L401.9 79L410.7 82.2L421.2 83.6L435.3 82.1L433.7 75.6L431.3 74.5L434.9 68L438.7 64.2L441 61.2L441.8 58.3Z"/>
<path fill="#9ccb4e" d="M442.8 68.9L442.3 67.4L441.8 65.8L441.4 64.2L440.7 62.7L439.8 61.4L438.7 60.4L437.3 59.6L435.9 59.1L434.3 58.8L432.7 58.7L431.1 58.8L429.5 58.9L428 59.1L426.4 59.3L424.9 59.4L423.3 59.5L421.6 59.4L419.8 59L418 58.4L416.2 57.9L414.5 57.7L412.8 57.7L411.2 58.1L409.6 58.7L408.2 59.6L406.8 60.7L405.6 62L404.4 63.2L403.2 64.4L402.1 65.6L400.8 66.6L399.4 67.4L397.9 68.1L396.3 68.7L394.5 69.1L392.7 69.3L390.8 69.4L388.9 69.3L387.1 69.1L385.4 68.7L383.8 68L382.4 67.2L380.9 66.4L379.4 65.6L377.8 65L376.2 64.3L374.4 63.7L372.4 63.2L370.2 63.1L368 63.7L366.2 64.8L364.7 66.4L363.5 68L362.5 69.6L361.6 71.1L360.8 72.6L360 74.1L359.3 75.5L358.6 77L358 78.5L357.4 79.9L366.3 77.4L369.3 84.8L376.4 87.6L381.8 86.6L389.7 81.2L401.9 79L410.7 82.2L421.2 83.6L435.3 82.1L433.7 75.6L431.3 74.5L434.9 68L438.7 64.2L441 61.2L441.8 58.3Z"/>
<path fill="#f4e450" d="M442.5 69L442 67.5L441.5 65.9L441 64.4L440.4 62.9L439.5 61.7L438.4 60.8L437.1 60.1L435.7 59.6L434.2 59.4L432.7 59.3L431.1 59.3L429.6 59.5L428 59.7L426.5 59.9L424.9 60L423.3 60.1L421.6 59.9L419.7 59.5L417.9 58.9L416.1 58.5L414.5 58.2L412.9 58.3L411.4 58.6L409.9 59.2L408.5 60L407.2 61.1L406 62.4L404.8 63.6L403.6 64.8L402.4 66L401.1 67L399.7 67.9L398.1 68.7L396.4 69.2L394.6 69.6L392.7 69.8L390.8 69.9L388.9 69.8L387 69.6L385.2 69.2L383.6 68.5L382.1 67.7L380.6 66.9L379.1 66.1L377.6 65.5L376 64.8L374.3 64.2L372.4 63.7L370.3 63.6L368.2 64L366.4 65.1L364.9 66.6L363.8 68.2L362.7 69.7L361.8 71.2L361 72.7L360.3 74.2L359.5 75.6L358.8 77.1L358.2 78.5L357.5 80L366.3 77.4L369.3 84.8L376.4 87.6L381.8 86.6L389.7 81.2L401.9 79L410.7 82.2L421.2 83.6L435.3 82.1L433.7 75.6L431.3 74.5L434.9 68L438.7 64.2L441 61.2L441.8 58.3Z"/>
<path fill="#f7b53d" d="M441.7 69.3L441 67.8L440.4 66.3L439.8 64.9L439.1 63.8L438.3 62.9L437.4 62.2L436.3 61.8L435.2 61.5L434 61.3L432.6 61.3L431.2 61.3L429.7 61.5L428.2 61.7L426.6 61.8L425 62L423.2 62L421.3 61.8L419.4 61.3L417.5 60.5L415.9 60L414.4 59.7L413.1 59.6L411.8 60L410.5 60.6L409.4 61.4L408.2 62.3L407.1 63.5L405.9 64.8L404.7 66L403.4 67.2L402 68.3L400.4 69.3L398.7 70.1L396.9 70.8L394.9 71.2L392.9 71.5L390.8 71.6L388.7 71.5L386.7 71.3L384.7 70.8L383 70.1L381.4 69.2L379.9 68.4L378.5 67.6L377 66.9L375.5 66.2L373.9 65.6L372.2 64.9L370.4 64.6L368.5 64.7L366.8 65.7L365.4 67L364.2 68.5L363.2 70L362.3 71.5L361.4 73L360.7 74.4L359.9 75.8L359.2 77.3L358.5 78.7L357.8 80.1L366.3 77.4L369.3 84.8L376.4 87.6L381.8 86.6L389.7 81.2L401.9 79L410.7 82.2L421.2 83.6L435.3 82.1L433.7 75.6L431.3 74.5L434.9 68L438.7 64.2L441 61.2L441.8 58.3Z"/>
<path fill="#f3812f" d="M441 69.5L440.1 68.1L439.3 66.7L438.5 65.5L437.7 64.6L437.1 64L436.3 63.7L435.5 63.6L434.7 63.4L433.7 63.3L432.6 63.3L431.3 63.3L429.9 63.5L428.4 63.7L426.8 63.8L425 64L423.1 64L421 63.7L419 63L417.2 62L415.6 61.5L414.4 61.1L413.3 61L412.2 61.4L411.2 61.9L410.2 62.7L409.2 63.5L408.2 64.7L407.1 65.9L405.8 67.2L404.4 68.4L402.9 69.6L401.2 70.7L399.3 71.6L397.3 72.3L395.2 72.8L393 73.1L390.8 73.3L388.6 73.2L386.3 72.9L384.2 72.4L382.3 71.6L380.7 70.7L379.2 69.8L377.8 69L376.4 68.3L375 67.6L373.6 66.9L372.1 66.1L370.5 65.6L368.7 65.5L367.1 66.2L365.8 67.4L364.7 68.8L363.6 70.3L362.7 71.7L361.8 73.2L361.1 74.6L360.3 76L359.6 77.4L358.8 78.8L358 80.2L366.3 77.4L369.3 84.8L376.4 87.6L381.8 86.6L389.7 81.2L401.9 79L410.7 82.2L421.2 83.6L435.3 82.1L433.7 75.6L431.3 74.5L434.9 68L438.7 64.2L441 61.2L441.8 58.3Z"/>
<path fill="#e8502a" d="M440.2 69.8L439.1 68.4L438.1 67.1L437.2 66.1L436.4 65.4L435.8 65.2L435.2 65.2L434.7 65.4L434.2 65.3L433.5 65.2L432.5 65.2L431.4 65.3L430.1 65.5L428.6 65.7L426.9 65.8L425.1 66L423 66L420.8 65.5L418.6 64.8L416.9 63.6L415.4 63L414.3 62.5L413.4 62.4L412.6 62.7L411.9 63.3L411.1 64L410.3 64.8L409.3 65.8L408.2 67L406.9 68.3L405.5 69.7L403.8 70.9L402 72.1L399.9 73.1L397.7 73.8L395.5 74.4L393.1 74.8L390.8 75L388.4 74.9L386 74.6L383.7 74L381.7 73.2L379.9 72.2L378.5 71.3L377.1 70.5L375.8 69.7L374.6 69L373.3 68.3L372 67.3L370.6 66.7L369 66.2L367.5 66.8L366.2 67.8L365.1 69.2L364.1 70.6L363.1 72L362.3 73.4L361.5 74.8L360.7 76.2L359.9 77.6L359.1 79L358.3 80.4L366.3 77.4L369.3 84.8L376.4 87.6L381.8 86.6L389.7 81.2L401.9 79L410.7 82.2L421.2 83.6L435.3 82.1L433.7 75.6L431.3 74.5L434.9 68L438.7 64.2L441 61.2L441.8 58.3Z"/>
<path fill="#d42928" d="M439.5 70L438.2 68.7L437 67.5L436 66.6L435.1 66.3L434.6 66.3L434.2 66.7L433.9 67.1L433.7 67.2L433.2 67.2L432.5 67.2L431.5 67.3L430.2 67.5L428.8 67.6L427.1 67.8L425.2 68L422.9 68L420.5 67.4L418.3 66.5L416.5 65.2L415.2 64.5L414.3 64L413.6 63.7L413 64.1L412.5 64.6L412 65.3L411.3 66L410.4 66.9L409.3 68.2L408 69.5L406.5 70.9L404.7 72.2L402.7 73.5L400.5 74.5L398.2 75.3L395.7 76L393.3 76.4L390.8 76.7L388.3 76.6L385.7 76.2L383.2 75.6L381 74.7L379.2 73.7L377.7 72.7L376.4 71.9L375.3 71.1L374.1 70.4L372.9 69.6L371.9 68.5L370.7 67.7L369.3 66.9L367.9 67.3L366.6 68.2L365.6 69.5L364.5 70.9L363.6 72.3L362.7 73.6L361.9 75L361.1 76.4L360.3 77.8L359.4 79.1L358.6 80.5L366.3 77.4L369.3 84.8L376.4 87.6L381.8 86.6L389.7 81.2L401.9 79L410.7 82.2L421.2 83.6L435.3 82.1L433.7 75.6L431.3 74.5L434.9 68L438.7 64.2L441 61.2L441.8 58.3Z"/>
<path fill="#b31a21" d="M438.7 70.3L437.2 69.1L435.9 67.9L434.7 67.2L433.8 67.1L433.3 67.4L433.1 68.1L433.1 68.9L433.2 69.1L433 69.2L432.4 69.2L431.6 69.3L430.4 69.5L429 69.6L427.3 69.8L425.2 70L422.8 70L420.3 69.3L417.9 68.3L416.2 66.7L414.9 66L414.2 65.4L413.8 65.1L413.4 65.5L413.2 66L412.9 66.6L412.3 67.2L411.5 68.1L410.4 69.3L409.1 70.7L407.5 72.1L405.6 73.6L403.5 74.9L401.1 76L398.6 76.9L396 77.6L393.4 78.1L390.8 78.4L388.1 78.2L385.4 77.9L382.7 77.2L380.4 76.2L378.5 75.1L377 74.2L375.7 73.4L374.7 72.5L373.6 71.7L372.6 70.9L371.8 69.8L370.9 68.8L369.6 67.6L368.3 67.9L367 68.6L366 69.9L365 71.2L364 72.5L363.1 73.9L362.3 75.2L361.4 76.6L360.6 78L359.7 79.3L358.9 80.6L366.3 77.4L369.3 84.8L376.4 87.6L381.8 86.6L389.7 81.2L401.9 79L410.7 82.2L421.2 83.6L435.3 82.1L433.7 75.6L431.3 74.5L434.9 68L438.7 64.2L441 61.2L441.8 58.3Z"/>
<path fill="#dcf0fb" d="M324.8 174.6L325.9 173.6L327 172.5L328.2 171.3L329.3 170.1L330.4 168.9L331.6 167.5L332.9 166L334.2 164.6L335.3 163L336.4 161.6L337.5 160.3L338.6 159.1L339.8 158.4L341.1 158.2L342.5 158.6L344 159.5L345.6 160.5L347.5 161.6L349.7 161.8L351.7 161.6L353.6 161.1L355.3 160.5L356.8 160.1L358 160.7L358.5 162.2L359 163.9L359.5 165.7L360.2 167.6L361.6 169L363.1 170.4L364.8 171.5L366.5 172.3L368.3 172.8L370.1 173L371.9 173L373.6 172.9L375.2 172.8L376.7 172.6L378.3 172.5L379.8 172.3L381.4 172.1L383 171.8L384.7 171.5L386.5 171.2L388.4 170.7L390.2 170.3L391.8 169.8L393.1 169.4L394.2 169.2L395.2 169.4L396.1 170L397 170.7L397.9 171.7L403 172.3L410 169L415.1 172.8L419.9 171.8L427.7 164.3L434.6 157.9L444.9 141L444.9 121L434.6 104.1L422.6 89.8L405 84.2L394.7 83.6L383.7 81.4L377.6 82.3L370.8 88.5L367.5 95.5L360.3 100.3L356.2 106.1L355.6 112.3L356 118.1L355.8 123L356.5 127.7L355.8 132.1L352.4 137.3L350 143.4L347 149.3L341.4 151.3L337.9 153.3L335.4 155L331.7 159.1L328.5 164Z"/>
<path fill="#c3e5f8" d="M324.6 174.5L325.7 173.4L326.8 172.3L327.9 171.1L329 169.9L330.1 168.6L331.3 167.2L332.5 165.7L333.8 164.2L334.9 162.7L336 161.2L337.1 159.9L338.3 158.7L339.7 157.9L341.1 157.7L342.6 158.1L344.2 159L345.9 160.1L347.7 161.1L349.8 161.4L351.7 161.3L353.6 160.9L355.3 160.4L356.8 160.1L358 160.7L358.6 162L359.2 163.7L359.8 165.4L360.7 167.2L362 168.6L363.4 169.9L365 171L366.7 171.8L368.4 172.3L370.2 172.5L371.9 172.5L373.5 172.4L375.1 172.3L376.7 172.1L378.2 171.9L379.8 171.7L381.3 171.5L382.9 171.3L384.6 171L386.4 170.6L388.3 170.2L390.1 169.7L391.7 169.2L393 168.8L394.2 168.7L395.4 169L396.4 169.6L397.3 170.4L398.2 171.4L403 172.3L410 169L415.1 172.8L419.9 171.8L427.7 164.3L434.6 157.9L444.9 141L444.9 121L434.6 104.1L422.6 89.8L405 84.2L394.7 83.6L383.7 81.4L377.6 82.3L370.8 88.5L367.5 95.5L360.3 100.3L356.2 106.1L355.6 112.3L356 118.1L355.8 123L356.5 127.7L355.8 132.1L352.4 137.3L350 143.4L347 149.3L341.4 151.3L337.9 153.3L335.4 155L331.7 159.1L328.5 164Z"/>
<path fill="#9dd0f0" d="M324.4 174.4L325.5 173.3L326.6 172.1L327.7 171L328.7 169.7L329.8 168.4L330.9 167L332.1 165.5L333.4 163.9L334.5 162.4L335.7 160.9L336.8 159.5L338.1 158.3L339.5 157.4L341.1 157.2L342.8 157.6L344.4 158.5L346.1 159.6L347.9 160.6L349.9 161L351.8 161L353.6 160.6L355.3 160.2L356.8 160.1L358 160.6L358.7 161.9L359.4 163.5L360.1 165.2L361 166.9L362.3 168.3L363.7 169.5L365.3 170.6L366.9 171.3L368.6 171.8L370.2 172L371.9 172L373.5 171.9L375.1 171.8L376.6 171.6L378.2 171.4L379.7 171.2L381.2 171L382.8 170.8L384.5 170.5L386.3 170.2L388.2 169.7L390 169.2L391.6 168.7L393 168.3L394.3 168.2L395.5 168.5L396.6 169.2L397.7 170.1L398.6 171.2L403 172.3L410 169L415.1 172.8L419.9 171.8L427.7 164.3L434.6 157.9L444.9 141L444.9 121L434.6 104.1L422.6 89.8L405 84.2L394.7 83.6L383.7 81.4L377.6 82.3L370.8 88.5L367.5 95.5L360.3 100.3L356.2 106.1L355.6 112.3L356 118.1L355.8 123L356.5 127.7L355.8 132.1L352.4 137.3L350 143.4L347 149.3L341.4 151.3L337.9 153.3L335.4 155L331.7 159.1L328.5 164Z"/>
<path fill="#6caee1" d="M324.3 174.3L325.4 173.1L326.4 172L327.5 170.8L328.5 169.6L329.6 168.2L330.7 166.8L331.8 165.3L333.1 163.7L334.2 162.1L335.4 160.6L336.5 159.2L337.9 158L339.4 157.1L341.1 156.8L342.9 157.3L344.6 158.2L346.3 159.3L348 160.2L349.9 160.7L351.8 160.8L353.6 160.5L355.3 160.2L356.8 160.1L358 160.6L358.8 161.9L359.6 163.4L360.4 165L361.3 166.6L362.6 168L364 169.2L365.5 170.2L367 171L368.6 171.4L370.3 171.6L371.9 171.6L373.5 171.5L375 171.4L376.6 171.2L378.1 171L379.6 170.8L381.2 170.6L382.7 170.4L384.4 170.1L386.2 169.8L388.1 169.3L389.9 168.9L391.5 168.4L393 168L394.4 167.8L395.7 168.2L396.9 168.9L397.9 169.9L398.8 171L403 172.3L410 169L415.1 172.8L419.9 171.8L427.7 164.3L434.6 157.9L444.9 141L444.9 121L434.6 104.1L422.6 89.8L405 84.2L394.7 83.6L383.7 81.4L377.6 82.3L370.8 88.5L367.5 95.5L360.3 100.3L356.2 106.1L355.6 112.3L356 118.1L355.8 123L356.5 127.7L355.8 132.1L352.4 137.3L350 143.4L347 149.3L341.4 151.3L337.9 153.3L335.4 155L331.7 159.1L328.5 164Z"/>
<path fill="#4a8fcf" d="M324.2 174.2L325.2 173L326.3 171.9L327.3 170.7L328.3 169.4L329.4 168.1L330.4 166.6L331.6 165.1L332.8 163.5L333.9 161.9L335.1 160.4L336.3 159L337.7 157.7L339.3 156.7L341.1 156.5L343 156.9L344.7 157.9L346.4 158.9L348.2 159.9L350 160.4L351.8 160.5L353.6 160.3L355.3 160.1L356.8 160.1L358 160.6L358.9 161.8L359.7 163.3L360.6 164.8L361.6 166.4L362.8 167.8L364.2 168.9L365.6 169.9L367.1 170.6L368.7 171.1L370.3 171.3L371.9 171.2L373.5 171.1L375 171L376.6 170.9L378.1 170.7L379.6 170.5L381.1 170.3L382.7 170.1L384.3 169.8L386.1 169.4L388 169L389.8 168.5L391.4 168L392.9 167.6L394.4 167.5L395.8 167.9L397.1 168.6L398.1 169.6L399 170.8L403 172.3L410 169L415.1 172.8L419.9 171.8L427.7 164.3L434.6 157.9L444.9 141L444.9 121L434.6 104.1L422.6 89.8L405 84.2L394.7 83.6L383.7 81.4L377.6 82.3L370.8 88.5L367.5 95.5L360.3 100.3L356.2 106.1L355.6 112.3L356 118.1L355.8 123L356.5 127.7L355.8 132.1L352.4 137.3L350 143.4L347 149.3L341.4 151.3L337.9 153.3L335.4 155L331.7 159.1L328.5 164Z"/>
<path fill="#3f9f8a" d="M324.2 174.1L325.2 173L326.2 171.8L327.2 170.6L328.2 169.3L329.3 168L330.3 166.5L331.4 165L332.6 163.4L333.8 161.8L334.9 160.3L336.2 158.8L337.6 157.5L339.3 156.6L341.1 156.3L343 156.7L344.8 157.7L346.5 158.8L348.2 159.7L350 160.3L351.8 160.4L353.6 160.3L355.3 160L356.8 160.1L358 160.6L358.9 161.8L359.8 163.2L360.7 164.7L361.7 166.2L363 167.6L364.3 168.8L365.7 169.7L367.2 170.4L368.7 170.9L370.3 171.1L371.9 171L373.4 170.9L375 170.8L376.5 170.7L378.1 170.5L379.6 170.3L381.1 170.1L382.6 169.9L384.3 169.6L386.1 169.2L387.9 168.8L389.7 168.3L391.4 167.8L392.9 167.4L394.4 167.3L395.9 167.7L397.2 168.5L398.3 169.5L399.2 170.7L403 172.3L410 169L415.1 172.8L419.9 171.8L427.7 164.3L434.6 157.9L444.9 141L444.9 121L434.6 104.1L422.6 89.8L405 84.2L394.7 83.6L383.7 81.4L377.6 82.3L370.8 88.5L367.5 95.5L360.3 100.3L356.2 106.1L355.6 112.3L356 118.1L355.8 123L356.5 127.7L355.8 132.1L352.4 137.3L350 143.4L347 149.3L341.4 151.3L337.9 153.3L335.4 155L331.7 159.1L328.5 164Z"/>
<path fill="#46ad4a" d="M324.1 174.1L325.1 172.9L326.1 171.8L327.1 170.6L328.2 169.3L329.2 167.9L330.2 166.5L331.3 164.9L332.5 163.3L333.6 161.7L334.8 160.2L336.1 158.7L337.5 157.4L339.2 156.4L341.1 156.2L343 156.6L344.8 157.5L346.6 158.6L348.3 159.6L350.1 160.2L351.8 160.3L353.6 160.2L355.3 160L356.8 160L358 160.6L359 161.7L359.9 163.1L360.8 164.7L361.9 166.1L363.1 167.5L364.4 168.7L365.8 169.6L367.3 170.3L368.8 170.8L370.3 170.9L371.9 170.9L373.4 170.8L375 170.7L376.5 170.5L378 170.3L379.5 170.1L381.1 169.9L382.6 169.7L384.3 169.4L386.1 169.1L387.9 168.7L389.7 168.2L391.4 167.7L392.9 167.3L394.4 167.2L395.9 167.5L397.3 168.4L398.4 169.4L399.3 170.7L403 172.3L410 169L415.1 172.8L419.9 171.8L427.7 164.3L434.6 157.9L444.9 141L444.9 121L434.6 104.1L422.6 89.8L405 84.2L394.7 83.6L383.7 81.4L377.6 82.3L370.8 88.5L367.5 95.5L360.3 100.3L356.2 106.1L355.6 112.3L356 118.1L355.8 123L356.5 127.7L355.8 132.1L352.4 137.3L350 143.4L347 149.3L341.4 151.3L337.9 153.3L335.4 155L331.7 159.1L328.5 164Z"/>
<path fill="#9ccb4e" d="M324.1 174L325.1 172.9L326.1 171.7L327.1 170.5L328.1 169.2L329.1 167.9L330.1 166.4L331.2 164.8L332.4 163.2L333.5 161.6L334.7 160.1L336 158.6L337.4 157.2L339.2 156.3L341.1 156L343.1 156.4L344.9 157.4L346.6 158.5L348.4 159.4L350.1 160L351.9 160.2L353.6 160.1L355.3 160L356.8 160L358 160.6L359 161.7L359.9 163.1L360.9 164.6L362 166L363.2 167.4L364.5 168.5L365.9 169.5L367.3 170.1L368.8 170.6L370.3 170.8L371.9 170.7L373.4 170.6L375 170.5L376.5 170.3L378 170.2L379.5 170L381 169.8L382.6 169.5L384.2 169.3L386 168.9L387.9 168.5L389.7 168L391.3 167.5L392.9 167.1L394.5 167L396 167.4L397.4 168.2L398.5 169.3L399.4 170.6L403 172.3L410 169L415.1 172.8L419.9 171.8L427.7 164.3L434.6 157.9L444.9 141L444.9 121L434.6 104.1L422.6 89.8L405 84.2L394.7 83.6L383.7 81.4L377.6 82.3L370.8 88.5L367.5 95.5L360.3 100.3L356.2 106.1L355.6 112.3L356 118.1L355.8 123L356.5 127.7L355.8 132.1L352.4 137.3L350 143.4L347 149.3L341.4 151.3L337.9 153.3L335.4 155L331.7 159.1L328.5 164Z"/>
<path fill="#f4e450" d="M324 174L325 172.8L326 171.6L327 170.4L328 169.1L329 167.8L330 166.3L331.1 164.7L332.2 163.1L333.4 161.5L334.6 159.9L335.9 158.5L337.3 157.1L339.1 156.1L341.1 155.8L343.1 156.3L345 157.2L346.7 158.3L348.4 159.3L350.1 159.9L351.9 160.1L353.6 160L355.4 159.9L356.8 160L358 160.6L359 161.6L360 163L361 164.5L362.1 165.9L363.3 167.2L364.6 168.4L366 169.3L367.4 170L368.9 170.4L370.4 170.6L371.9 170.5L373.4 170.4L375 170.3L376.5 170.2L378 170L379.5 169.8L381 169.6L382.6 169.4L384.2 169.1L386 168.7L387.8 168.3L389.6 167.8L391.3 167.3L392.9 166.9L394.5 166.8L396.1 167.2L397.5 168.1L398.6 169.2L399.5 170.5L403 172.3L410 169L415.1 172.8L419.9 171.8L427.7 164.3L434.6 157.9L444.9 141L444.9 121L434.6 104.1L422.6 89.8L405 84.2L394.7 83.6L383.7 81.4L377.6 82.3L370.8 88.5L367.5 95.5L360.3 100.3L356.2 106.1L355.6 112.3L356 118.1L355.8 123L356.5 127.7L355.8 132.1L352.4 137.3L350 143.4L347 149.3L341.4 151.3L337.9 153.3L335.4 155L331.7 159.1L328.5 164Z"/>
<path fill="#f7b53d" d="M323.9 173.9L324.9 172.7L325.9 171.5L326.8 170.3L327.8 169L328.7 167.6L329.7 166.1L330.7 164.4L331.7 162.7L332.8 161.1L334 159.5L335.3 157.9L336.9 156.4L338.9 155.2L341.1 154.9L343.4 155.4L345.4 156.3L347.1 157.5L348.7 158.5L350.3 159.3L351.9 159.7L353.7 159.7L355.4 159.8L356.8 160L358 160.6L359.1 161.6L360.2 162.9L361.3 164.3L362.4 165.7L363.6 167L364.8 168.1L366.2 168.9L367.5 169.6L369 169.9L370.4 170.1L371.9 170L373.4 169.9L374.9 169.7L376.4 169.6L377.9 169.4L379.4 169.1L380.9 168.9L382.4 168.6L384.1 168.3L385.8 167.9L387.6 167.4L389.4 166.9L391.1 166.4L392.8 166L394.6 165.9L396.4 166.4L397.9 167.5L399.1 168.7L400 170.2L403 172.3L410 169L415.1 172.8L419.9 171.8L427.7 164.3L434.6 157.9L444.9 141L444.9 121L434.6 104.1L422.6 89.8L405 84.2L394.7 83.6L383.7 81.4L377.6 82.3L370.8 88.5L367.5 95.5L360.3 100.3L356.2 106.1L355.6 112.3L356 118.1L355.8 123L356.5 127.7L355.8 132.1L352.4 137.3L350 143.4L347 149.3L341.4 151.3L337.9 153.3L335.4 155L331.7 159.1L328.5 164Z"/>
<path fill="#f3812f" d="M323.8 173.8L324.8 172.6L325.7 171.4L326.7 170.2L327.5 168.8L328.4 167.4L329.3 165.8L330.3 164.1L331.2 162.4L332.3 160.7L333.5 159L334.8 157.3L336.5 155.6L338.6 154.3L341.2 154L343.6 154.4L345.8 155.4L347.5 156.7L349 157.8L350.4 158.8L352 159.2L353.7 159.4L355.4 159.6L356.8 160L358 160.6L359.2 161.5L360.3 162.8L361.5 164.1L362.7 165.4L363.9 166.7L365.1 167.8L366.4 168.6L367.7 169.1L369.1 169.5L370.4 169.6L371.9 169.5L373.4 169.3L374.9 169.2L376.4 169L377.8 168.7L379.3 168.5L380.8 168.2L382.3 167.9L383.9 167.5L385.6 167L387.4 166.5L389.1 165.9L390.9 165.4L392.7 165L394.7 165L396.7 165.6L398.4 166.8L399.6 168.3L400.5 169.8L403 172.3L410 169L415.1 172.8L419.9 171.8L427.7 164.3L434.6 157.9L444.9 141L444.9 121L434.6 104.1L422.6 89.8L405 84.2L394.7 83.6L383.7 81.4L377.6 82.3L370.8 88.5L367.5 95.5L360.3 100.3L356.2 106.1L355.6 112.3L356 118.1L355.8 123L356.5 127.7L355.8 132.1L352.4 137.3L350 143.4L347 149.3L341.4 151.3L337.9 153.3L335.4 155L331.7 159.1L328.5 164Z"/>
<path fill="#e8502a" d="M323.7 173.8L324.7 172.5L325.6 171.3L326.5 170.1L327.3 168.7L328.1 167.2L329 165.6L329.9 163.9L330.8 162L331.8 160.3L332.9 158.5L334.3 156.7L336 154.9L338.3 153.4L341.2 153L343.9 153.5L346.2 154.5L347.9 155.9L349.3 157.1L350.5 158.2L352 158.8L353.7 159.1L355.4 159.4L356.8 160L358 160.5L359.3 161.4L360.5 162.6L361.7 163.9L363 165.1L364.1 166.4L365.3 167.4L366.6 168.2L367.9 168.7L369.2 169L370.5 169L371.9 168.9L373.3 168.8L374.8 168.6L376.3 168.4L377.8 168.1L379.2 167.8L380.7 167.5L382.2 167.1L383.8 166.7L385.4 166.2L387.2 165.6L388.9 164.9L390.7 164.4L392.7 164L394.9 164L397 164.9L398.8 166.2L400.1 167.8L401 169.5L403 172.3L410 169L415.1 172.8L419.9 171.8L427.7 164.3L434.6 157.9L444.9 141L444.9 121L434.6 104.1L422.6 89.8L405 84.2L394.7 83.6L383.7 81.4L377.6 82.3L370.8 88.5L367.5 95.5L360.3 100.3L356.2 106.1L355.6 112.3L356 118.1L355.8 123L356.5 127.7L355.8 132.1L352.4 137.3L350 143.4L347 149.3L341.4 151.3L337.9 153.3L335.4 155L331.7 159.1L328.5 164Z"/>
<path fill="#d42928" d="M323.6 173.7L324.5 172.5L325.5 171.2L326.4 169.9L327.1 168.5L327.9 167L328.7 165.4L329.4 163.6L330.3 161.7L331.3 159.9L332.4 158L333.7 156.1L335.6 154.2L338.1 152.5L341.2 152.1L344.1 152.6L346.6 153.6L348.3 155.1L349.6 156.3L350.7 157.6L352.1 158.3L353.7 158.8L355.4 159.3L356.8 160L358 160.5L359.3 161.3L360.6 162.5L362 163.7L363.3 164.9L364.4 166.1L365.5 167.1L366.8 167.8L368 168.3L369.3 168.5L370.5 168.5L371.9 168.4L373.3 168.2L374.8 168L376.2 167.8L377.7 167.4L379.1 167.1L380.6 166.7L382.1 166.4L383.6 165.9L385.2 165.3L386.9 164.7L388.7 164L390.5 163.4L392.6 163L395 163.1L397.3 164.1L399.2 165.6L400.6 167.3L401.5 169.1L403 172.3L410 169L415.1 172.8L419.9 171.8L427.7 164.3L434.6 157.9L444.9 141L444.9 121L434.6 104.1L422.6 89.8L405 84.2L394.7 83.6L383.7 81.4L377.6 82.3L370.8 88.5L367.5 95.5L360.3 100.3L356.2 106.1L355.6 112.3L356 118.1L355.8 123L356.5 127.7L355.8 132.1L352.4 137.3L350 143.4L347 149.3L341.4 151.3L337.9 153.3L335.4 155L331.7 159.1L328.5 164Z"/>
<path fill="#b31a21" d="M323.5 173.6L324.4 172.4L325.3 171.1L326.2 169.8L326.9 168.3L327.6 166.8L328.4 165.2L329 163.3L329.8 161.3L330.7 159.5L331.8 157.5L333.2 155.5L335.1 153.4L337.8 151.6L341.2 151.1L344.4 151.6L347 152.7L348.7 154.3L349.9 155.6L350.8 157L352.1 157.9L353.7 158.5L355.4 159.1L356.9 159.9L358.1 160.5L359.4 161.3L360.8 162.4L362.2 163.6L363.6 164.6L364.7 165.8L365.8 166.8L367 167.4L368.2 167.8L369.4 168L370.6 168L371.9 167.9L373.3 167.6L374.7 167.4L376.2 167.2L377.6 166.8L379.1 166.4L380.5 166L381.9 165.6L383.5 165.2L385.1 164.5L386.7 163.8L388.4 163L390.3 162.5L392.5 162.1L395.1 162.1L397.6 163.3L399.7 164.9L401.1 166.8L401.9 168.8L403 172.3L410 169L415.1 172.8L419.9 171.8L427.7 164.3L434.6 157.9L444.9 141L444.9 121L434.6 104.1L422.6 89.8L405 84.2L394.7 83.6L383.7 81.4L377.6 82.3L370.8 88.5L367.5 95.5L360.3 100.3L356.2 106.1L355.6 112.3L356 118.1L355.8 123L356.5 127.7L355.8 132.1L352.4 137.3L350 143.4L347 149.3L341.4 151.3L337.9 153.3L335.4 155L331.7 159.1L328.5 164Z"/>
<circle cx="333.2" cy="153.4" r="3" fill="#b31a21"/>
<circle cx="388" cy="131" r="5.6" fill="#fff"/>
<path class="land" d="M284.5 76L304.9 74.3L308.7 76.7L311.3 78.9L316.1 82.5L320.6 84.3L318.7 86L316.9 85.7L319.1 87L320.4 86.9L323.3 86.5L327.4 84.5L330.2 85.3L334.5 85.6L337 87.5L340.1 87.1L343.9 87.6L346 86.7L349.8 86.3L352 85.7L354.1 84.4L356.3 84.1L358.3 83.5L358.5 81L359.6 78.8L360.4 79.5L360.3 83L361.3 80.8L361.7 78.3L361.3 76.3L362.4 73.5L364.2 70.6L366.2 67.6L368.1 65.9L370 64.7L368.3 66.5L366.5 68.6L364.6 71.5L364.3 73.8L364.5 75.5L366.1 74.4L367.8 74L369.3 73.3L370 75.6L372.5 75.3L373.6 76.7L374.8 78L374.3 80L373.8 81.4L371.9 82.8L372.1 84.8L373.7 84.3L375.8 83.7L377.2 85L378.4 85.3L377 86.9L375.4 87.5L373.9 87.6L374.7 88.9L376.2 89.9L378.6 90.7L378.3 92L376.8 94.2L375.6 96L373.9 98.6L371.5 98.7L369.5 98.9L366.9 99.8L364.5 100.9L362.4 101.5L360.3 101.8L359.8 103.8L358.8 105.7L358.5 107.6L358.9 108.3L356.9 108.4L355.7 108.8L355.9 110.6L354.7 111L352.4 112.8L351.4 113.9L349.6 113.1L348.5 115.8L348 117.6L348.4 118.9L346.9 120.8L346.8 123L345.9 124.7L347.4 125.3L346.9 126.7L349.2 126.9L350.6 126.7L352.1 127.2L353.8 128L351.9 129.4L350 129.7L349 130.3L347.6 131L346.1 132.5L344.7 132.9L347.2 134.2L349.7 134L349.9 136L348.4 136.9L346.5 136.8L344.6 137.5L343 136.1L342.8 134.2L341.2 133.5L339.2 132.7L338.2 131L337.2 130.1L335.8 129.2L333.3 127.2L330.4 126.2L327.9 126.6L324.8 128.2L324.1 129.9L322.1 133.9L320.8 136.9L321 140.1L318.5 140.2L316.3 141.1L313.7 143.4L313.4 144.4L316.2 145.4L319.1 144.1L320.4 143.3L322.6 145.5L324.8 146.1L327.6 144.4L328.8 143.1L331.5 143.5L333.4 142.6L336.2 142L336.6 142.4L336.3 144.4L335.9 147.9L335.6 150.1L333.7 151L331.9 152L331.2 154L333 155.5L336.4 155.3L334.4 157.7L332.6 160.7L330.3 163L329.4 167.6L329 170.8L327 172.6L324.9 172.3L320.3 170.1L318.1 165.9L316.4 162.1L313.2 161.2L310.3 159.7L307.7 159L310 160.2L313.1 162L315.3 164.9L314.9 166.2L312.6 165.4L311 166.9L310 169L309.9 170.8L310.8 172.9L314 172.9L311.7 175L309.4 173.7L307 171.4L303.5 169.2L304.8 167.7L307.9 169.2L308.8 168.6L306.7 167.2L305.3 166.1L303.4 164.3L301.5 162.5L299.4 162L298.3 162.2L297.4 162.9L297.1 164.1L296 162.3L294.6 160.4L293.1 158.6L292.4 158.4L291.3 158.7L273.4 155.4L263.4 131L267.7 98.8Z M347.6 173L347.1 170.5L346.2 168L346.9 165.7L349.2 161.6L350.6 159.2L352.6 156.9L356 156L357.2 155.9L356.9 153.2L358.8 152.2L360.6 149.8L362.6 147.5L364.6 145.3L364.6 143.4L363.8 141.8L363.6 140.4L365.4 139L366.4 137.8L368.2 138.6L370.4 138.8L371.6 138.3L373.3 138.7L375.2 139L376.4 140.1L377.8 140.8L379.5 141.1L381.4 141.1L382.3 142.3L382.8 143.9L383.7 145.9L384.7 146.9L383.5 148.4L382.3 149L381.2 150.6L380.4 152.4L380.2 154.3L379.2 156L378.5 157.8L377.1 159.3L375.7 160.8L374.9 162.6L374.5 164.5L373.8 165.3L371.6 164.7L373.3 166.1L372.1 166.6L370 167.1L367.6 167L365.8 166.6L363.6 167.5L361.2 168.2L359.3 167.8L357.2 167.6L354.7 169.3L351.9 170.9L349.8 172.2Z M371.4 179.2L368.6 177.3L368.4 175.1L368.6 173.6L370.4 172.5L370.9 174.4L372.2 173.8L373.9 174.3L375.5 174.1L376.4 174.8L377 176.5L376 178.3L374.3 178.9Z M369.7 246.7L372.4 230.4L373.2 227.8L373.2 225.5L372.8 223.6L375.5 222.4L379.1 223.3L381.8 223.7L385.1 223.9L386.1 221.3L386.3 219.1L386.2 217.7L384.8 215.5L381.8 214L381.1 212.7L383.8 212L385.7 212.5L385.4 210.1L387.7 210.8L389.4 209.7L390.3 207.6L392.2 206.7L393.3 205.1L394 203L395.5 202L397.9 201.3L398.7 200.3L397.6 197.3L397.2 194.3L399.4 192.4L399.6 194.9L399.4 197L399.9 198.4L401.2 199L401.4 199.8L402.7 199.1L404.1 198.2L405.3 198.9L407.2 197.8L409.5 196L410.3 196.6L411.4 196L412.2 194.6L412 193.1L411.2 190.6L411.9 188.7L413.5 189.6L414.1 189.4L413.2 186.8L412 186.3L412.5 184.7L415.6 182.9L417.2 181.1L415 180.8L413.1 182.4L412 183.6L410.7 184.4L408.8 183.9L408 182L407 179.2L407.9 176.7L408.4 174.3L407.2 173.1L405.8 174.4L405.7 176.5L405.4 178.7L404.1 181.3L404.5 184.3L405.4 185.1L406.6 185.7L406.8 187.2L405.6 189.3L406 191.3L406.1 194L404.9 194.8L404.5 196.2L403.1 196.5L402.4 195.4L401.5 193.5L400.8 192.2L399.4 189.7L398.8 188L398.4 189.9L396.1 192.4L395.5 192.4L394.2 191.6L393.5 190L393.2 187.8L392.8 186.2L392.9 184.6L394.2 182.8L395.9 181.2L396.7 180.5L397.1 179L397.9 176.8L398.1 174.7L398.8 172.9L399.1 171L399.6 170.3L400 169.1L400.6 167.5L401.5 166.2L402.6 164.7L403.6 163.3L405 162.9L406.9 163.1L407.2 164.3L408.1 163.8L409.3 163.7L411 163.2L413.5 163.1L415.9 163.1L416.9 164L417.1 165.7L416.1 167L412.8 167.7L411.4 167.9L413 168.8L415.3 170.3L417.3 170.6L418.7 170.3L419.3 168.3L419.7 168.1L418.1 166.9L418 164.4L419.3 163.4L418.1 161.6L416 160.7L418.2 160.1L419.3 161.8L420.1 160.9L419.7 159.1L421.1 156.8L421.1 155.1L421.7 155L422.1 152.7L423.1 151.3L422.5 150.5L421.6 150L424.1 148.2L425.9 146.7L426.3 146.5L423.9 146.2L421.2 145.2L419 142.9L418.3 142L418.1 141.4L419.7 140.8L422.5 141.6L426.3 142.4L428.1 143.3L430.1 145.5L430.7 144.9L429.3 142.8L426.5 141.7L422.7 141L421 139.8L420.4 138.2L421.5 137.8L422.6 137.1L421.8 136.3L423.8 135.4L418.9 136.2L418.6 133.1L416.4 132.2L415.4 130.5L414.4 129.2L413.9 127.6L412.1 125.9L410.5 125.3L411.6 124L411.7 121.4L412.6 120.3L414.7 120.2L417.8 121.3L419 122.1L417.2 120.4L415.9 119.1L416.2 117.5L415.5 116.1L416.1 115.1L415 113.4L413 113.5L412.5 112.8L412.5 111.2L413.6 109.9L415.2 108.2L415.1 106.6L413.7 107L412.5 105.6L411.3 104.7L409.1 105.4L408.5 105.6L407.3 103.5L405.3 101.6L405 99.8L403.3 98.1L400.8 96.8L400.6 94.3L398.3 93.8L396.4 93.3L394.3 93.5L394 93.2L390.7 92.5L388.4 90.8L386.6 89.9L384.7 88.6L381.5 87.6L379.8 86.1L380.7 84.7L381.6 82.6L382.4 82.1L384.6 82.9L386.8 84.2L387.2 85.7L388.4 84.1L390.1 82.6L388.6 79.2L388.8 77.8L392.7 77L396.9 74.9L397.8 73.8L400.8 75.4L403.6 74.9L405.1 73.2L406.2 71.4L406.7 68.8L408.4 68.3L409.2 65.9L412.7 63.1L414.2 63.7L416.6 61.3L418.3 60.6L417.9 63L416.9 67.1L415.3 70.9L412.5 73.7L409.4 75.1L405.7 77L402.4 79.2L401.7 80L403.6 78.5L406.8 78L406.4 80.4L410.4 79.5L413.3 77.9L415.9 78.5L416.6 79.8L419.5 80.6L421.9 82.6L423.7 83.7L427 83.7L431.5 82.7L435.7 82.5L435.6 80.9L435.7 79L433.7 76.5L432.8 75.1L434.5 73L438 70.4L440.3 68.2L444 67L449.2 65.8L453.6 65.4L457 66.7L457.7 68.5L460.3 68.8L462.8 68.9L465 68L467.7 69.2L482.8 62.1L512.6 131L495.9 193.3L461.2 231.8L451.9 219L443.7 223.6L441.9 226.3L437.7 226.4L434.5 224.4L432.9 222.3L432.8 220.1L435.6 217.3L435.7 217L439 214.3L441 211.1L443.1 209.7L446.1 209.5L449.2 208L451.2 206.3L452.4 203.8L450.9 202.1L447.7 202.2L443.7 202.3L441 202.4L441.7 199.7L441.5 196.5L438.8 199.7L438 202.4L439.5 203.2L440.9 203L438.7 206.2L435.7 205.8L435.5 204.1L433.6 204L432.2 204.6L432 208.1L431.8 211L432.3 212.7L431.8 215.2L433.4 216.4L435.5 216.6L434.2 217.8L431.8 220.1L428.9 220.7L428.4 222.7L426.6 222.7L427.4 224.8L430.8 227.2L429.2 230.4L425.8 228.5L422.8 226.6L421 224.8L420.2 222L418.1 221L413.6 220.1L411.4 218.4L410.3 217.1L409.2 217.8L408.7 216.4L406.9 217.5L407.3 219.4L409.6 220.9L411.3 223.1L414.5 223.6L418.7 225.4L419.9 226.4L417 226.4L418.1 229.4L416.5 232.3L416.4 229.9L415.1 227.9L412.2 226.8L410 226.2L406.5 224.4L404.6 222.2L402.2 220.8L399.7 222.5L397 224L394.5 223.7L392.9 225.4L391.7 228.4L388.9 230.5L387.5 233.9L388 248.2Z M338.9 153.4L339.2 152.7L339.3 148.7L340.2 145.2L340.6 142.8L339.8 141.2L341.9 141.2L343 143.9L345.1 144.1L347 143.6L348.4 141.6L349.7 140.2L350.6 138.3L349.7 136.4L351 133.9L350 132.7L351.9 131.3L354.8 131.1L357.1 131.5L357.3 132.1L357.2 133.7L355.5 133.6L357 135.4L357.5 136.1L356.2 138.3L355.1 140.1L353.8 142.5L352.7 145.3L351 146.3L350 148.7L349.2 151.6L348.8 152.5L347.5 152.5L346.3 152.3L344.8 151.6L346.2 148.3L344.1 150.1L343.4 151.8L341.8 153L340.2 153.5Z M362.5 131.2L362.4 135.1L363.9 135.9L366 136.7L367.9 136.4L370.2 137.3L372.5 137.9L374.7 138.2L375.6 137.3L375.8 135.4L374.8 134.1L373.6 132.9L372.5 131.5L371.6 130.6L370.1 131.6L369.2 132.2L367.8 132.4L366.3 131.8L365 131.8L363.4 131.2Z M365.7 131.6L367.8 132.1L369.7 131.8L371.6 130.3L370.7 129.3L369.2 128.9L367.9 129.2L366.7 130.3Z M359.1 136.1L360.1 136.2L361.5 135.7L361.5 133.8L362.1 131.2L363.1 129.7L362 128.3L360.6 129.6L359 130L358.6 132L358.8 134.1Z M353.9 128.3L355.2 130.7L357.3 130.9L357.9 129.7L357.6 128.1L355.5 127.7Z M353 125.8L355 127.1L357.5 127L357.3 125L356.1 123.9L354.1 124.1Z M348.6 123L349.7 123.6L351.6 123.9L354.1 123.5L356.2 122.8L357.4 122.2L358.7 121.2L357.7 120L359.1 118.1L359.1 115.3L357.3 114L356 114.3L354.8 113.7L352.7 113.4L351.3 114.7L349.7 117.1L349.6 120Z M357.6 111.5L360.1 110.9L361.5 112.6L363.3 114.4L362.8 115.9L361.1 117L359.3 117.1L358.6 114.7L357.6 112.9Z M360.6 121L360.7 123.2L362.5 123.9L364.1 123L364 121.3L364.8 119.4L363.3 118.1L362 119.4Z M359.9 126.8L361.7 127.4L363.2 126.8L363.2 125L361.2 125.1L360.1 125.8Z M359.1 129L360.4 129.3L360.9 128.2L359.6 127.8Z M364.9 118L365.4 120L366.8 120.5L366.8 118.5L366.3 116.9Z M365.4 126.6L366.5 127.6L368.3 126.5L367.5 125.1Z M365.3 128.4L366.7 129.1L366.7 128Z M365.4 122.8L366.7 123.2L367.9 122.9L366.8 121.5Z M347.3 126.4L348.8 127.2L350.1 126L348.9 124.5L347.9 125Z M336.9 138.2L338.3 139.6L339.9 139.3L341.1 138L342 135.8L342.1 134.6L340.6 133.6L338.2 133.6L336.9 134.8L337.7 136.3Z M335.2 137.9L336.5 138.4L336.4 137.2Z M334.5 140.8L335.7 140.7L335.2 140Z M319.2 182.4L321.2 181.9L322.7 180.2L323.7 178.6L323.1 176.4L322.9 174.9L326.1 173.6L323.9 172.6L321.6 173L319.2 173.2L316.8 173.3L316 173.7L317.4 176L318.6 178.2L317.8 179.3L319.3 180L318.9 181.2Z M317.1 169L317.6 167.7L317 165L316.6 166.6Z M310.7 171.3L311.8 171.2L311.6 168.3L310.4 168.8Z M319.6 85.8L321 84.5L323.4 83.7L326.2 82.9L327.7 83.4L325.7 84.9L323.3 85.7L320.9 86.2Z M331.9 82.3L334.8 82.2L336.9 83.3L335.6 84.4L334.1 83Z M360.5 73.3L358.7 75.4L359.5 76.8L360.8 75.2L360.9 73.6Z M378.6 80.1L378.1 80.8L380.1 81.2L380.7 80.5Z M373.9 74.5L373.9 75.6L375.3 75.2L375.1 74.4Z M388.8 94.7L388.3 95.9L386.8 95.9L386.4 94.9L387.7 94.5Z M407.4 109.5L406.7 110.9L405.3 111.4L404.7 110.4L404.4 108.5L403.4 108.2L403.8 107.1L405.8 108.2Z M403.5 106.7L402.6 107.6L401.8 106.6L402.4 106.1Z M408.4 106.7L407.2 107.3L406.4 106.2L407.2 105.6Z M409 128.4L408.2 129.8L406.8 129.5L406.3 128.6L407.5 127.6L408.7 127.4Z M410.3 126.9L408.8 127L407.8 126.2L409 125.4L410.1 125.7Z M406.3 129.9L404.9 129.5L404.5 129.1L405.6 128.5L406.4 129.1Z M419 150.9L418.1 152L415.6 152.7L414.4 151.2L413.6 149.6L412.8 148.4L411.6 146.9L410.9 145L410.9 143.2L410.6 141.1L410.9 140L412.1 140.5L412.7 143L413.4 145.7L414.4 147.8L415.5 149.7L417.1 150.7L418.6 150.5Z M421.3 150.6L419.9 150.4L420.5 149.6Z M418.2 157.8L417.4 157L418.1 156.4L418.8 157.1Z M401.5 143.6L400.5 143.1L400.9 142L402 142.5Z M403 141.9L402 141L402 139.9L403.2 140.1L403.5 141.1Z M403.9 140L402.9 139.1L403.4 138.2L404.2 138.7Z M395.3 155.5L393.7 153.9L393 152.7L392.1 151.4L391.7 150.1L392.6 149.3L393.5 149.5L393.8 149L394.8 150.6L395.8 151.3L395.4 152.4L395.3 153.5Z M394.5 150.1L394.1 148.7L394.9 147.6L396.4 147.5L396.7 149.2L395.3 150Z M397 153.3L396.1 152.2L396.6 151.4L397.7 152.3Z M380.2 208.9L382.4 206.8L384 206.5L384.5 206.3L382.8 206L381.2 205.6L382.7 204.5L382 203.4L382.4 202.4L384.3 202.5L384.5 201L383.8 199.7L383.8 199.1L382.1 199.4L382.5 197.8L382.3 196.9L381.3 198.1L381.2 195.6L381.4 193.6L382.7 191.4L384.8 191.6L383.6 193.3L385.8 193.5L385.7 194.7L384.3 196.9L385.1 196.9L386.1 198L386.7 199.9L387.9 200.9L388.1 202L388.4 203.2L389.9 203.4L390.2 204.2L389.6 205.7L389.1 206.6L389.8 206.5L389.7 207.2L388.4 207.8L386.4 208L384.8 208.2L383.1 208.8L381.5 208.6L380.9 209.2Z M375.1 205.5L374.7 203.7L375.8 203L375.8 201.5L375.5 201.1L375.9 199.6L377.6 199.7L377.6 198.9L378.6 198L379.5 197.7L380.7 198.2L381.4 199.6L380.7 200.5L380.4 202.2L379.9 204.4L377.3 205Z M430 75.9L430.9 73.7L432.4 71.4L433.8 68.5L434.8 65.8L435.1 64.4L436.6 66.6L438.3 65.2L439.2 63.1L439.9 60.9L439.9 62.6L441.7 62L440.3 64L438.3 66.6L436.1 68.9L434.6 71.8L432.7 74.3L431.6 74.8Z M442.5 61.5L442.3 58.1L439.8 56.2L440.4 53.9L442.9 54.6L445.4 54L446.7 56.7L448.2 57L450.5 56.2L448.2 58.5L446.4 58.4L444.4 59.6Z M449.3 55.6L448.9 54.7L449.8 53L453.5 48.6L456.4 51L452.8 54L451.1 55.3L450.4 55.6L450.3 54.6Z M403.6 227.2L402.4 226L402.8 224.3L403.3 223.6L403.9 225.8Z M402.9 231.7L402.1 228.6L403.8 227.6L404.9 229L405.1 231.3Z M408 191.7L408 189.8L408.4 190.5Z M401.9 197.6L400.7 196.4L402 195.3L402.6 196.8Z M356.3 154.4L357.7 154.7L357.9 153.3L356.6 153.2Z"/>
<path class="lake" d="M467.4 200.1L464.7 194.7L462.4 195.3L459.7 194.9L457.2 194.4L454.7 193.2L453.6 191.7L453.3 188.8L453 187.5L454.4 184.8L455 183.3L456.8 182.8L459.1 184L458 186.6L457.5 188.7L460.3 189.1L463.3 188.8L464.6 189.8L466.5 190.2L466.9 187.7L468.1 188.8L468.4 191.6L472.6 193.6Z M463.3 171.9L464.8 172.2L466.2 174.3L468.1 175.4L467.9 178.1L466.5 179.5L464.1 178L463.1 176.1L462.7 174.2Z M302.3 139.3L302.8 137.7L302 135.5L302.8 133.5L303.9 133.9L302.3 130.3L302.4 127.9L304.1 130.3L305.8 132.4L306.9 133.8L306.8 136L305.3 138.2L303.4 139Z M291.3 135.4L294.2 134.4L297.6 134.9L297.8 134.2L298.7 134.9L300.8 137.1L301.1 138.6L300.7 139.1L298.9 137.9L296.6 136.6L294.4 137.1L292.1 136.7Z M301 139.4L301.9 141.6L301.8 143.9L301.7 145.1L300 146.7L298.8 146.2L300 144.1L297.4 144.2L295 143.4L296.4 142.2L296.3 140.8L297.7 141.6L299.2 141.3L300.4 139.9Z M291.9 142.1L292.6 142.5L293.6 145.1L295.3 148.2L295.7 149.1L294.6 148.3L293.2 146.9L291.7 144.5Z M296.3 147.5L297.6 148.6L298.6 150.8L299.4 152.4L298 153.1L297 151.2L296.6 148.8Z"/>
<path class="lakeg" d="M310.9 121.8L313.1 122.5L315.3 122.1L318.2 121.2L318.5 120.4L316.7 119.7L314.4 120.7L312.2 121.4Z M338.3 105.7L338.2 107.2L336.8 107.7L336.8 108.7L337.9 111.3L338.8 113.6L338.7 112.1L339.6 109.4L339.4 107.8L339 106.5Z M348 104.8L347.3 106.6L347.5 108.6L347.9 110L349.8 109.4L349.9 107.6L351.9 105.7L349.7 105.7Z M331.6 109.3L331.8 111.6L331.4 114.2L331 113.6L331.6 110.5Z M324.7 116.6L326.4 118.2L327.5 118.1L325.7 116.6Z M417.9 180.7L419.1 179.3L418.2 177.9L416.1 177.8L415.9 179.3L417.3 180.1Z M420.8 176.2L420.4 175.2L417.9 174L418.5 175.3L419.7 176.2Z M401.2 190.6L400.8 189.7L401.8 188.4L402.6 189.5Z M344.9 145.4L346.4 146.2L345.3 144.9Z"/>
<path d="M461.2 113L460 111L457.5 109.8L454.8 108.3L452.1 108.1L450.5 108.5L451.4 109.2L454.7 109.3L457.2 110.5L459.8 111.8Z M473.8 155.9L471.8 155L470.5 153.1L472.1 150.4L472.3 147.4L473 148.3L472.4 151.3L472.6 154Z" fill="#9a9a9a" stroke="#111" stroke-width="0.7" stroke-linejoin="round"/>
<path d="M365.1 69.8L366.8 67.7L368.3 65.9L369.9 64.5L371.4 62.9L372.6 61.5L374.1 60.1" fill="none" stroke="#151515" stroke-width="1.5" stroke-linecap="round" stroke-linejoin="round"/>
<circle cx="382.8" cy="166.7" r="0.7" fill="#111"/>
<circle cx="397.6" cy="159" r="0.7" fill="#111"/>
<circle cx="381.4" cy="184.4" r="0.7" fill="#111"/>
<circle cx="386.7" cy="188.2" r="0.7" fill="#111"/>
<circle cx="384.9" cy="190.8" r="0.7" fill="#111"/>
<circle cx="380.4" cy="192.8" r="0.7" fill="#111"/>
<circle cx="419.5" cy="60.2" r="0.7" fill="#111"/>
<circle cx="427.9" cy="55.9" r="0.7" fill="#111"/>
<circle cx="435.4" cy="55.2" r="0.7" fill="#111"/>
<circle cx="439.2" cy="55.1" r="0.7" fill="#111"/>
<circle cx="404.5" cy="65" r="0.7" fill="#111"/>
<circle cx="396.8" cy="59.3" r="0.7" fill="#111"/>
<circle cx="382.8" cy="56.9" r="0.7" fill="#111"/>
<circle cx="375.3" cy="58.9" r="0.7" fill="#111"/>
<circle cx="372" cy="61.7" r="0.7" fill="#111"/>
<circle cx="376.9" cy="68" r="0.7" fill="#111"/>
<circle cx="380.9" cy="74.6" r="0.7" fill="#111"/>
<circle class="g" cx="388" cy="131" r="28.4"/>
<circle class="g" cx="388" cy="131" r="57.8"/>
<circle class="g" cx="388" cy="131" r="89.4"/>
<path class="g" d="M388 131L388 231.7M402.2 155.6L438.4 218.2M412.6 145.2L475.2 181.4M388 131L488.7 131M412.6 116.8L475.2 80.7M402.2 106.4L438.4 43.8M388 131L388 30.3M373.8 106.4L337.6 43.8M363.4 116.8L300.8 80.6M388 131L287.3 131M363.4 145.2L300.8 181.4M373.8 155.6L337.6 218.2"/>
</g>
<circle cx="388" cy="131" r="100.7" fill="none" stroke="#303030" stroke-width="1.1"/>
<text class="l" x="381.1" y="29.8" textLength="14" lengthAdjust="spacingAndGlyphs">180</text>
<text class="l" x="440.1" y="44" textLength="23.2" lengthAdjust="spacingAndGlyphs">150 E</text>
<text class="l" x="478.5" y="82.6" textLength="23.1" lengthAdjust="spacingAndGlyphs">120 E</text>
<text class="l" x="492.8" y="134.6" textLength="18.1" lengthAdjust="spacingAndGlyphs">90 E</text>
<text class="l" x="478.5" y="187.4" textLength="18.3" lengthAdjust="spacingAndGlyphs">60 E</text>
<text class="l" x="440.5" y="225.8" textLength="18.1" lengthAdjust="spacingAndGlyphs">30 E</text>
<text class="l" x="385.5" y="239.9" textLength="5.1" lengthAdjust="spacingAndGlyphs">0</text>
<text class="l" x="314.1" y="225.3" textLength="21.5" lengthAdjust="spacingAndGlyphs">30 W</text>
<text class="l" x="275.2" y="187.2" textLength="21.6" lengthAdjust="spacingAndGlyphs">60 W</text>
<text class="l" x="261.3" y="134.3" textLength="21.3" lengthAdjust="spacingAndGlyphs">90 W</text>
<text class="l" x="270.8" y="82.3" textLength="25.8" lengthAdjust="spacingAndGlyphs">120 W</text>
<text class="l" x="309.1" y="43" textLength="26" lengthAdjust="spacingAndGlyphs">150 W</text>
</g>
<g id="panel-c">
<g clip-path="url(#cc)">
<circle cx="133.6" cy="402.3" r="100.7" fill="#fff"/>
<path d="M121 384L122 381.1L121.7 378.2L123.1 374.7L124.9 370.6L127.2 367.1L130.1 366L133.6 365.7L137.1 365L141.7 365.4L146.4 366.5L151 368.3L155.1 369.4L157.4 372.3L161.5 371.8L165.6 374.1L169.1 374.1L171.4 376.4L170.8 379.9L172 383.4L173.1 386.9L170.8 388.6L169.1 389.8L171.4 392.1L174.3 394.4L177.2 397.9L178.4 402L178.8 404.3L178.6 407.8L178.3 411.9L177.2 415.4L176 419.4L174.3 422.9L171.4 427L168.5 431.1L165 434.6L160.9 436.7L156.9 437.5L152.8 438.6L148.7 439.2L144.6 438.3L141.2 437.5L139.4 435.7L140.6 432.2L141.2 429.3" fill="none" stroke="#d9effb" stroke-width="11" stroke-linejoin="round" stroke-linecap="round"/>
<path d="M121 384L122 381.1L121.7 378.2L123.1 374.7L124.9 370.6L127.2 367.1L130.1 366L133.6 365.7L137.1 365L141.7 365.4L146.4 366.5L151 368.3L155.1 369.4L157.4 372.3L161.5 371.8L165.6 374.1L169.1 374.1L171.4 376.4L170.8 379.9L172 383.4L173.1 386.9L170.8 388.6L169.1 389.8L171.4 392.1L174.3 394.4L177.2 397.9L178.4 402L178.8 404.3L178.6 407.8L178.3 411.9L177.2 415.4L176 419.4L174.3 422.9L171.4 427L168.5 431.1L165 434.6L160.9 436.7L156.9 437.5L152.8 438.6L148.7 439.2L144.6 438.3L141.2 437.5L139.4 435.7L140.6 432.2L141.2 429.3" fill="none" stroke="#9fd2f1" stroke-width="7" stroke-linejoin="round" stroke-linecap="round"/>
<path d="M89.9 374.7L88.4 375.3L87.9 371.8L90.5 367.1L95.1 363.6L100.9 361.3L106.7 359.6L114.9 359.2L120.7 360.4L126.5 359.9L132.3 360.4L140 361.1L140 368.3L120.7 383.4L94 382.2Z" fill="#d9effb"/>
<path d="M91 375L91.4 370.6L96.3 366.5L103.3 364.2L110.2 363.6L117.2 364.8L123 365.4L127.7 363.4L133.5 362.7L140 362.9L140 368.3L120.7 383.4L94 382.2Z" fill="#9fd2f1"/>
<path d="M121 384L122 381.1L121.7 378.2L123.1 374.7L124.9 370.6L127.2 367.1L130.1 366L133.6 365.7L137.1 365L141.7 365.4L146.4 366.5L151 368.3L155.1 369.4L157.4 372.3L161.5 371.8L165.6 374.1L169.1 374.1L171.4 376.4L170.8 379.9L172 383.4L173.1 386.9L170.8 388.6L169.1 389.8L171.4 392.1L174.3 394.4L177.2 397.9L178.4 402L178.8 404.3L178.6 407.8L178.3 411.9L177.2 415.4L176 419.4L174.3 422.9L171.4 427L168.5 431.1L165 434.6L160.9 436.7L156.9 437.5L152.8 438.6L148.7 439.2L144.6 438.3L141.2 437.5L139.4 435.7L140.6 432.2L141.2 429.3" fill="none" stroke="#6cc062" stroke-width="2.6" stroke-linejoin="round" stroke-linecap="round"/>
<circle cx="157.9" cy="369.4" r="1.1" fill="#ee5a2b"/>
<circle cx="174.2" cy="389.2" r="1.3" fill="#d6e04f"/>
<circle cx="178.8" cy="400.8" r="1.1" fill="#f4892f"/>
<circle cx="175.9" cy="396.8" r="1" fill="#f4e450"/>
<circle cx="180.2" cy="410.1" r="1.2" fill="#f4892f"/>
<circle cx="177.1" cy="417.1" r="1.1" fill="#f4e450"/>
<circle cx="174.8" cy="424.1" r="1.2" fill="#f4892f"/>
<circle cx="168.4" cy="429.3" r="1.1" fill="#f4e450"/>
<path d="M120.1 375.8L124.8 370L128.8 366L133.5 364.2L140 364.6" fill="none" stroke="#55b553" stroke-width="4" stroke-linejoin="round" stroke-linecap="round"/>
<path d="M93 375.8L93.5 372.7L97.4 371.3L109.1 371.3L118.4 372L120.9 374.1L121.6 378.2L120.7 382.5L119 385.4L111.4 388L109.7 388.6L105 386.7L98.6 383.6L93.5 381.1Z" fill="#6eb0e2" stroke="#6eb0e2" stroke-width="6" stroke-linejoin="round"/>
<path d="M93 375.8L93.5 372.7L97.4 371.3L109.1 371.3L118.4 372L120.9 374.1L121.6 378.2L120.7 382.5L119 385.4L111.4 388L109.7 388.6L105 386.7L98.6 383.6L93.5 381.1Z" fill="#43ab48" stroke="#43ab48" stroke-width="3.4" stroke-linejoin="round"/>
<path d="M93 375.8L93.5 372.7L97.4 371.3L109.1 371.3L118.4 372L120.9 374.1L121.6 378.2L120.7 382.5L119 385.4L111.4 388L109.7 388.6L105 386.7L98.6 383.6L93.5 381.1Z" fill="#f4e450" stroke="#f4e450" stroke-width="1.8" stroke-linejoin="round"/>
<path d="M93 375.8L93.5 372.7L97.4 371.3L109.1 371.3L118.4 372L120.9 374.1L121.6 378.2L120.7 382.5L119 385.4L111.4 388L109.7 388.6L105 386.7L98.6 383.6L93.5 381.1Z" fill="#f4892f" stroke="#f4892f" stroke-width="0.9" stroke-linejoin="round"/>
<path d="M93 375.8L93.5 372.7L97.4 371.3L109.1 371.3L118.4 372L120.9 374.1L121.6 378.2L120.7 382.5L119 385.4L111.4 388L109.7 388.6L105 386.7L98.6 383.6L93.5 381.1Z" fill="#dc3028"/>
<path d="M94.4 375.3L95.1 373.6L100.9 372.9L109.1 373.4L114.9 375L118.4 378.2L119.5 382.5L118.1 385.5L113.7 387.2L109.1 387.5L105 385.7L100.9 383.2L96.9 381.1L94 379.3Z" fill="#b91f27"/>
<path d="M92.8 381.1L98.6 383.9L105 386.9L109.7 389L111.6 388.3L119 385.6L120.9 382.5L122.4 382.5L120.7 386.9L110.8 392.1L104.4 390.4L94 385.7Z" fill="#fff"/>
<path d="M89.3 370L86.4 372.9L85.8 381.1L88.1 390.4L89.9 402L90.5 409L92.8 417.1L96.9 426.4L103.3 433.4L112.6 439.8L121.9 445L132.3 446.8L140.5 446.8L149.8 445L156.7 438L156.7 427.6L114.9 419.4L100.9 402L95.1 378.7L91.6 370.6Z" fill="#d9effb"/>
<path d="M90.2 372.3L88.4 375.3L88.4 382.2L91 390.4L92.6 402L93.3 409L96 417.1L100 425.3L106.2 430.8L114.9 436.3L124.2 441L132.3 442.1L140.5 442.1L149.2 440.4L153.8 434.6L153.8 427.6L114.9 419.4L100.9 402L95.1 378.7L91.6 372.3Z" fill="#9fd2f1"/>
<path d="M92.2 384L94.2 388.3L95.9 392.7L97 398.5L97.4 403.2" fill="none" stroke="#43ab48" stroke-width="2.6" stroke-linecap="round"/>
<path d="M92.2 384L94.2 388.3L95.9 392.7L97 398.5L97.4 403.2" fill="none" stroke="#f4e450" stroke-width="1.2" stroke-linecap="round"/>
<path d="M97 393.9L97.7 398.5L97.7 402L100.3 406.7L103.3 411.3L105 416L107.3 419.4L110.8 422.3L116 423.5L120.7 424.1L124.2 423.5L128.8 424.7L134.7 425.8L140 427L145.1 427.6L149.8 429.9L148.6 432.5L142.8 431.7L140 430.8L134.7 429.9L132.6 430.6L132 436.3L128.8 436.9L124.2 435.1L118.4 431.7L113.7 429.3L109.1 427L105 424.7L102.7 420.6L100.9 416L98.6 411.3L96.3 406.7L95.1 402L95.3 398.5L96.3 393.9Z" fill="#43ab48" stroke="#43ab48" stroke-width="3.6" stroke-linejoin="round"/>
<path d="M97 393.9L97.7 398.5L97.7 402L100.3 406.7L103.3 411.3L105 416L107.3 419.4L110.8 422.3L116 423.5L120.7 424.1L124.2 423.5L128.8 424.7L134.7 425.8L140 427L145.1 427.6L149.8 429.9L148.6 432.5L142.8 431.7L140 430.8L134.7 429.9L132.6 430.6L132 436.3L128.8 436.9L124.2 435.1L118.4 431.7L113.7 429.3L109.1 427L105 424.7L102.7 420.6L100.9 416L98.6 411.3L96.3 406.7L95.1 402L95.3 398.5L96.3 393.9Z" fill="#f4e450" stroke="#f4e450" stroke-width="2.2" stroke-linejoin="round"/>
<path d="M97 393.9L97.7 398.5L97.7 402L100.3 406.7L103.3 411.3L105 416L107.3 419.4L110.8 422.3L116 423.5L120.7 424.1L124.2 423.5L128.8 424.7L134.7 425.8L140 427L145.1 427.6L149.8 429.9L148.6 432.5L142.8 431.7L140 430.8L134.7 429.9L132.6 430.6L132 436.3L128.8 436.9L124.2 435.1L118.4 431.7L113.7 429.3L109.1 427L105 424.7L102.7 420.6L100.9 416L98.6 411.3L96.3 406.7L95.1 402L95.3 398.5L96.3 393.9Z" fill="#f4892f"/>
<path d="M107.3 421.5L114.9 424.7L120.7 425.3L126.5 425.3L131.2 427L131.2 433.4L126.5 433.2L119.5 429.3L112.6 427L107.3 424.7Z" fill="#dc3028"/>
<path d="M140.5 436.9L142.8 442.1L147.4 447.3L153.3 449.7L160.2 448.5L164.9 443.3L168.4 436.3L164.9 432.2Z" fill="#d9effb"/>
<path d="M143.7 436.9L161.4 435.7L159.7 441L156.2 443.4L150.9 443.6L146.3 441.8Z" fill="#9fd2f1" stroke="#9fd2f1" stroke-width="5" stroke-linejoin="round"/>
<path d="M143.7 436.9L161.4 435.7L159.7 441L156.2 443.4L150.9 443.6L146.3 441.8Z" fill="#43ab48" stroke="#43ab48" stroke-width="3" stroke-linejoin="round"/>
<path d="M143.7 436.9L161.4 435.7L159.7 441L156.2 443.4L150.9 443.6L146.3 441.8Z" fill="#f4e450" stroke="#f4e450" stroke-width="1.5" stroke-linejoin="round"/>
<path d="M143.7 436.9L161.4 435.7L159.7 441L156.2 443.4L150.9 443.6L146.3 441.8Z" fill="#f4892f"/>
<path d="M145.7 436.9L157.9 436.9L156.5 441L155 442.7L150.9 442.9L147.4 441.3Z" fill="#dc3028"/>
<path class="land" d="M90.8 373.3L91.5 377L92.3 381.1L94.1 384L96.4 385.7L99.9 385.1L103.4 385.7L106.3 387.5L108.6 389.2L110.6 392.5L113.8 389.4L118.5 386.9L121 384L122 381.1L121.7 378.2L123.1 374.7L124.9 370.6L127.2 367.1L130.1 366L133.6 365.7L137.1 365L141.7 365.4L146.4 366.5L151 368.3L155.1 369.4L157.4 372.3L161.5 371.8L165.6 374.1L169.1 374.1L171.4 376.4L170.8 379.9L172 383.4L173.1 386.9L170.8 388.6L169.1 389.8L171.4 392.1L174.3 394.4L177.2 397.9L178.4 402L178.8 404.3L178.6 407.8L178.3 411.9L177.2 415.4L176 419.4L174.3 422.9L171.4 427L168.5 431.1L165 434.6L160.9 436.7L156.9 437.5L152.8 438.6L148.7 439.2L144.6 438.3L141.2 437.5L139.4 435.7L140.6 432.2L141.2 429.3L140 427L139.4 423.5L138.8 419.4L137.1 416L134.8 413.6L132.4 412.5L130.1 409.9L128.4 411.9L126.6 415.4L123.7 417.7L124.3 421.2L122.6 422.9L119.6 424.1L116.2 423.5L112.7 422.3L110.9 419.4L107.4 418.3L106.3 415.4L105.1 411.9L103.9 407.8L101 405.5L101.6 402L102 403.2L102.2 399.7L102.8 396.2L102.2 392.7L101 391L98.7 389.2L95.2 388L92.9 386.3L91.2 382.8L90 378.7L90 374.1Z M35.3 355.9L44 355.9L45.1 359.4L48 361.2L49.8 362.9L52.1 364.7L52.7 367.6L55.6 368.7L57.9 367.6L59.7 370.5L62 372.8L64.9 375.1L67.8 375.7L70.7 374L71.5 375.1L70.1 378L67.8 380.3L64.9 381.5L60.8 382.1L56.8 381.5L52.7 380.3L48 378.3L44 375.9L40.5 374.5L37.6 374L35.3 374Z M142.8 501.5L145.1 494.5L148 489.3L150.9 485.8L153.3 487L153.9 489.9L150.9 493.4L148 498.6L145.7 502.1Z M184.1 483.5L185.8 480.6L188.2 480.8L190.1 483.5L187.6 485.5L185 485.5Z"/>
<path class="land" d="M68.7 362.9L69.9 362.4L70.5 364.1L69.9 365.9L68.7 365.5Z M140.5 501.3L141.9 500.6L142.2 502L140.8 502.7Z"/>
<path d="M37.6 374.1L44 376.2L48 378.5L52.7 380.6L56.8 381.7L60.8 382.2L64.9 381.6L67.8 380.3L70.1 378" fill="none" stroke="#1a1a1a" stroke-width="1.5" stroke-linejoin="round"/>
<path d="M90.6 373.2L91 375.8L90.6 378.5L91.5 381.1L92 383.6L93.4 386L95.7 387.3" fill="none" stroke="#1a1a1a" stroke-width="1.2" stroke-linejoin="round" stroke-linecap="round"/>
<path class="land" d="M95.2 389.4L98.5 389L101 390.6L99.9 392.7L96.6 392.2Z M88 369.4L89.4 369L89.6 370.6L88.5 371.3Z M88.7 375.3L89.6 375.7L89.4 377.8L88.5 377.3Z M99.6 404.6L101 404.1L101.7 406.7L100.6 409.2L99.4 407.8Z"/>
<circle cx="91.4" cy="346.3" r="0.9" fill="#111"/>
<circle cx="211.1" cy="375" r="0.9" fill="#111"/>
<circle class="g" cx="133.6" cy="402.3" r="28.4"/>
<circle class="g" cx="133.6" cy="402.3" r="57.8"/>
<circle class="g" cx="133.6" cy="402.3" r="89.4"/>
<path class="g" d="M133.6 402.3L133.6 503M147.8 426.9L183.9 489.5M158.2 416.5L220.8 452.7M133.6 402.3L234.3 402.3M158.2 388.1L220.8 352M147.8 377.7L183.9 315.1M133.6 402.3L133.6 301.6M119.4 377.7L83.2 315.1M109 388.1L46.4 351.9M133.6 402.3L32.9 402.3M109 416.5L46.4 452.7M119.4 426.9L83.2 489.5"/>
</g>
<circle cx="133.6" cy="402.3" r="100.7" fill="none" stroke="#303030" stroke-width="1.1"/>
<text class="l" x="131" y="300.7" textLength="5.1" lengthAdjust="spacingAndGlyphs">0</text>
<text class="l" x="186.1" y="314.9" textLength="18.1" lengthAdjust="spacingAndGlyphs">30 E</text>
<text class="l" x="224.1" y="353.6" textLength="18.5" lengthAdjust="spacingAndGlyphs">60 E</text>
<text class="l" x="238.4" y="405.5" textLength="18.1" lengthAdjust="spacingAndGlyphs">90 E</text>
<text class="l" x="224.1" y="458.3" textLength="23.1" lengthAdjust="spacingAndGlyphs">120 E</text>
<text class="l" x="185.7" y="497" textLength="23.2" lengthAdjust="spacingAndGlyphs">150 E</text>
<text class="l" x="126.7" y="511" textLength="14" lengthAdjust="spacingAndGlyphs">180</text>
<text class="l" x="52.9" y="497.2" textLength="28.2" lengthAdjust="spacingAndGlyphs">150 W</text>
<text class="l" x="16.6" y="458.3" textLength="25.8" lengthAdjust="spacingAndGlyphs">120 W</text>
<text class="l" x="7" y="405.4" textLength="21.4" lengthAdjust="spacingAndGlyphs">90 W</text>
<text class="l" x="20.7" y="353.5" textLength="21.4" lengthAdjust="spacingAndGlyphs">60 W</text>
<text class="l" x="60" y="314.8" textLength="21.2" lengthAdjust="spacingAndGlyphs">30 W</text>
</g>
<g id="panel-d">
<g clip-path="url(#cd)">
<circle cx="388" cy="402.3" r="100.7" fill="#fff"/>
<path fill="#d9effb" d="M345.2 373.3L342.1 375.3L340.3 369.4L345 363.6L352 359L361.3 354.3L368.2 353.2L376.4 353.7L384.5 356.7L388 362.2L391.5 363L397.3 363.4L402 364.6L405.4 366.5L407.8 369.4L399.6 369.4L388 369.4L376.4 381.1L363 389.2L350.8 385.7L346.7 381.1Z M344.4 378.7L343.2 386.9L346.1 392.7L349 400.8L349.6 406.7L350.8 412L361.3 412L357.2 396.2L355.4 391L347.3 386.3Z M350.8 402L351.7 407.8L353.1 413.6L358.7 422.9L361.3 429.9L365.9 435.7L372.9 440.4L379.9 445L386.8 448.5L392.7 452.2L392.7 453.7L399.6 452L408.9 448.5L417.1 443.9L421.7 439.2L422.9 435.7L419.4 433.4L395 428.7L388 411.3L372.9 413.6L361.3 409L356.6 402Z"/>
<path fill="#bfe3f8" d="M355.4 386L361.3 379.9L367.1 376.8L372.9 377.8L375.4 379.4L363 389.4L359.5 387.1Z M376.4 424.1L395.6 428.2L398 429L398 435.7L392.7 435.1L386.8 432.5L381 429Z"/>
<path fill="#9fd2f1" d="M359.5 386.9L364.7 382.5L370.6 379L375.4 379.7L363 389.4Z"/>
<path fill="none" stroke="#63a8df" stroke-width="2.2" d="M361.6 388.3L374.5 378.5"/>
<path fill="none" stroke="#5db85a" stroke-width="0.9" d="M362.8 389.6L375.4 379.9"/>
<path fill="none" stroke="#3f86c9" stroke-width="1.8" stroke-linecap="round" d="M375.4 424.6L382.2 426.9L389.2 428.2L395.9 428.9"/>
<path class="land" d="M345.2 373.3L345.9 377L346.7 381.1L348.5 384L350.8 385.7L354.3 385.1L357.8 385.7L360.7 387.5L363 389.2L365 392.5L368.2 389.4L372.9 386.9L375.4 384L376.4 381.1L376.1 378.2L377.5 374.7L379.3 370.6L381.6 367.1L384.5 366L388 365.7L391.5 365L396.1 365.4L400.8 366.5L405.4 368.3L409.5 369.4L411.8 372.3L415.9 371.8L420 374.1L423.5 374.1L425.8 376.4L425.2 379.9L426.4 383.4L427.5 386.9L425.2 388.6L423.5 389.8L425.8 392.1L428.7 394.4L431.6 397.9L432.8 402L433.2 404.3L433 407.8L432.7 411.9L431.6 415.4L430.4 419.4L428.7 422.9L425.8 427L422.9 431.1L419.4 434.6L415.3 436.7L411.3 437.5L407.2 438.6L403.1 439.2L399 438.3L395.6 437.5L393.8 435.7L395 432.2L395.6 429.3L394.4 427L393.8 423.5L393.2 419.4L391.5 416L389.2 413.6L386.8 412.5L384.5 409.9L382.8 411.9L381 415.4L378.1 417.7L378.7 421.2L377 422.9L374 424.1L370.6 423.5L367.1 422.3L365.3 419.4L361.8 418.3L360.7 415.4L359.5 411.9L358.3 407.8L355.4 405.5L356 402L356.4 403.2L356.6 399.7L357.2 396.2L356.6 392.7L355.4 391L353.1 389.2L349.6 388L347.3 386.3L345.6 382.8L344.4 378.7L344.4 374.1Z M289.7 355.9L298.4 355.9L299.5 359.4L302.4 361.2L304.2 362.9L306.5 364.7L307.1 367.6L310 368.7L312.3 367.6L314.1 370.5L316.4 372.8L319.3 375.1L322.2 375.7L325.1 374L325.9 375.1L324.5 378L322.2 380.3L319.3 381.5L315.2 382.1L311.2 381.5L307.1 380.3L302.4 378.3L298.4 375.9L294.9 374.5L292 374L289.7 374Z M397.2 501.5L399.5 494.5L402.4 489.3L405.3 485.8L407.7 487L408.3 489.9L405.3 493.4L402.4 498.6L400.1 502.1Z M438.5 483.5L440.2 480.6L442.6 480.8L444.5 483.5L442 485.5L439.4 485.5Z"/>
<path class="land" d="M323.1 362.9L324.3 362.4L324.9 364.1L324.3 365.9L323.1 365.5Z M394.9 501.3L396.3 500.6L396.6 502L395.2 502.7Z"/>
<path d="M292 374.1L298.4 376.2L302.4 378.5L307.1 380.6L311.2 381.7L315.2 382.2L319.3 381.6L322.2 380.3L324.5 378" fill="none" stroke="#1a1a1a" stroke-width="1.5" stroke-linejoin="round"/>
<path d="M345 373.2L345.4 375.8L345 378.5L345.9 381.1L346.4 383.6L347.8 386L350.1 387.3" fill="none" stroke="#1a1a1a" stroke-width="1.2" stroke-linejoin="round" stroke-linecap="round"/>
<path class="land" d="M349.6 389.4L352.9 389L355.4 390.6L354.3 392.7L351 392.2Z M342.4 369.4L343.8 369L344 370.6L342.9 371.3Z M343.1 375.3L344 375.7L343.8 377.8L342.9 377.3Z M354 404.6L355.4 404.1L356.1 406.7L355 409.2L353.8 407.8Z"/>
<circle cx="345.8" cy="346.3" r="0.9" fill="#111"/>
<circle cx="465.5" cy="375" r="0.9" fill="#111"/>
<circle class="g" cx="388" cy="402.3" r="28.4"/>
<circle class="g" cx="388" cy="402.3" r="57.8"/>
<circle class="g" cx="388" cy="402.3" r="89.4"/>
<path class="g" d="M388 402.3L388 503M402.2 426.9L438.4 489.5M412.6 416.5L475.2 452.7M388 402.3L488.7 402.3M412.6 388.1L475.2 352M402.2 377.7L438.4 315.1M388 402.3L388 301.6M373.8 377.7L337.6 315.1M363.4 388.1L300.8 351.9M388 402.3L287.3 402.3M363.4 416.5L300.8 452.7M373.8 426.9L337.6 489.5"/>
</g>
<circle cx="388" cy="402.3" r="100.7" fill="none" stroke="#303030" stroke-width="1.1"/>
<text class="l" x="385.4" y="300.7" textLength="5.1" lengthAdjust="spacingAndGlyphs">0</text>
<text class="l" x="440.5" y="314.9" textLength="18.1" lengthAdjust="spacingAndGlyphs">30 E</text>
<text class="l" x="478.5" y="353.6" textLength="18.5" lengthAdjust="spacingAndGlyphs">60 E</text>
<text class="l" x="492.8" y="405.5" textLength="18.1" lengthAdjust="spacingAndGlyphs">90 E</text>
<text class="l" x="478.5" y="458.3" textLength="23.1" lengthAdjust="spacingAndGlyphs">120 E</text>
<text class="l" x="440.1" y="497" textLength="23.2" lengthAdjust="spacingAndGlyphs">150 E</text>
<text class="l" x="381.1" y="511" textLength="14" lengthAdjust="spacingAndGlyphs">180</text>
<text class="l" x="309.6" y="496.8" textLength="25.7" lengthAdjust="spacingAndGlyphs">150 W</text>
<text class="l" x="268.8" y="458.3" textLength="25.8" lengthAdjust="spacingAndGlyphs">120 W</text>
<text class="l" x="261.4" y="405.4" textLength="21.4" lengthAdjust="spacingAndGlyphs">90 W</text>
<text class="l" x="275.1" y="353.5" textLength="21.4" lengthAdjust="spacingAndGlyphs">60 W</text>
<text class="l" x="314.4" y="314.8" textLength="21.2" lengthAdjust="spacingAndGlyphs">30 W</text>
</g>
<text class="t" x="32.3" y="18.2" textLength="44.3" lengthAdjust="spacingAndGlyphs">(a) Obs</text>
<text class="t" x="287.4" y="18.1" textLength="86.2" lengthAdjust="spacingAndGlyphs">(b) CAS-ESM</text>
<text class="t" x="32.5" y="289.4" textLength="44.3" lengthAdjust="spacingAndGlyphs">(c) Obs</text>
<text class="t" x="287.4" y="289.4" textLength="86.2" lengthAdjust="spacingAndGlyphs">(d) CAS-ESM</text>
<g id="colorbar" stroke="#222" stroke-width="0.6" stroke-linejoin="miter">
<path d="M96 523.2L82.8 527.4L96 531.5Z" fill="#fff"/>
<rect x="96" y="523.2" width="13.3" height="8.3" fill="#d5edfb"/>
<rect x="109.3" y="523.2" width="13.3" height="8.3" fill="#bfe3f8"/>
<rect x="122.6" y="523.2" width="13.3" height="8.3" fill="#a3d4f1"/>
<rect x="135.9" y="523.2" width="13.3" height="8.3" fill="#82bfe9"/>
<rect x="149.2" y="523.2" width="13.3" height="8.3" fill="#63a8df"/>
<rect x="162.5" y="523.2" width="13.3" height="8.3" fill="#4186c9"/>
<rect x="175.8" y="523.2" width="13.3" height="8.3" fill="#3b9a97"/>
<rect x="189.1" y="523.2" width="13.3" height="8.3" fill="#3da26e"/>
<rect x="202.4" y="523.2" width="13.3" height="8.3" fill="#42ab47"/>
<rect x="215.7" y="523.2" width="13.3" height="8.3" fill="#7bbf4b"/>
<rect x="229" y="523.2" width="13.3" height="8.3" fill="#b4d651"/>
<rect x="242.3" y="523.2" width="13.3" height="8.3" fill="#f4e450"/>
<rect x="255.6" y="523.2" width="13.3" height="8.3" fill="#f7bb3f"/>
<rect x="268.9" y="523.2" width="13.3" height="8.3" fill="#f69a34"/>
<rect x="282.2" y="523.2" width="13.3" height="8.3" fill="#f37a2e"/>
<rect x="295.5" y="523.2" width="13.3" height="8.3" fill="#ee5f2b"/>
<rect x="308.8" y="523.2" width="13.3" height="8.3" fill="#e54429"/>
<rect x="322.1" y="523.2" width="13.3" height="8.3" fill="#d82a28"/>
<rect x="335.4" y="523.2" width="13.3" height="8.3" fill="#c82028"/>
<rect x="348.7" y="523.2" width="13.3" height="8.3" fill="#b51d27"/>
<path d="M362 523.2L375.5 527.4L362 531.5Z" fill="#a51a22"/>
</g>
<text class="n" text-anchor="middle" x="95.7" y="544.3">0</text>
<text class="n" text-anchor="middle" x="122.3" y="544.3">10</text>
<text class="n" text-anchor="middle" x="148.9" y="544.3">20</text>
<text class="n" text-anchor="middle" x="175.5" y="544.3">30</text>
<text class="n" text-anchor="middle" x="202.1" y="544.3">40</text>
<text class="n" text-anchor="middle" x="228.7" y="544.3">50</text>
<text class="n" text-anchor="middle" x="255.3" y="544.3">60</text>
<text class="n" text-anchor="middle" x="281.9" y="544.3">70</text>
<text class="n" text-anchor="middle" x="308.5" y="544.3">80</text>
<text class="n" text-anchor="middle" x="335.1" y="544.3">90</text>
<text class="n" text-anchor="middle" x="361.7" y="544.3">100</text>
<text class="n" x="409.9" y="538.5" textLength="8.8" lengthAdjust="spacingAndGlyphs">%</text>
</svg></body></html>
